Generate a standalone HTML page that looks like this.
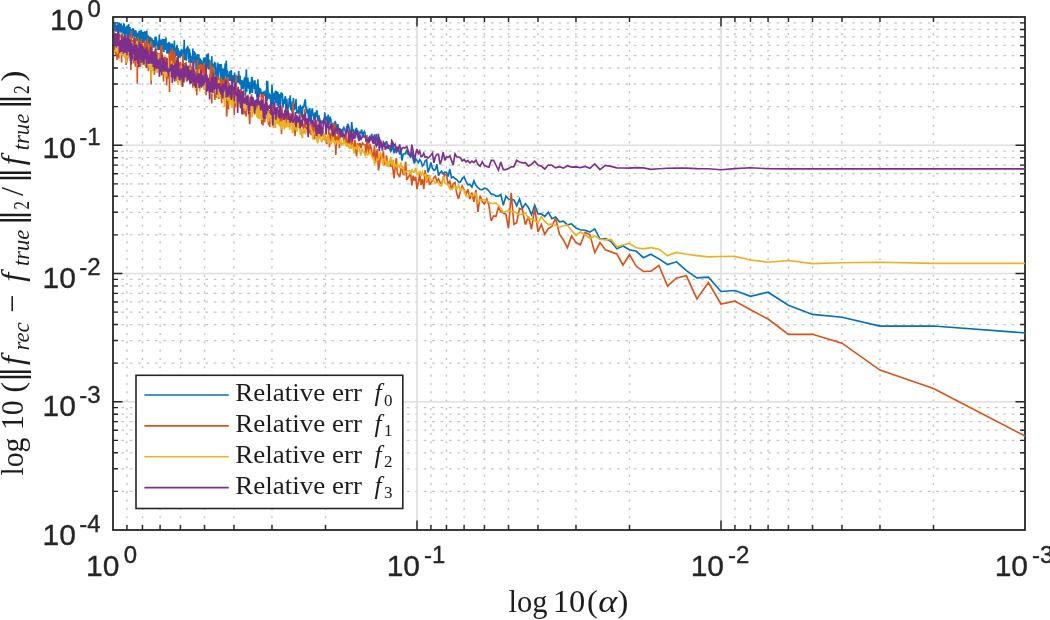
<!DOCTYPE html>
<html lang="en"><head><meta charset="utf-8"><title>Relative error vs alpha</title>
<style>html,body{margin:0;padding:0;background:#fff}svg{display:block}.tk{font-family:"Liberation Sans",sans-serif;fill:#262626;stroke:#262626;stroke-width:.35px}.tx{font-family:"Liberation Serif",serif;fill:#1c1c1c}.it{font-style:italic}</style></head><body>
<svg width="1050" height="620" viewBox="0 0 1050 620">
<rect width="1050" height="620" fill="#fff"/>
<g stroke="#c3c3c3" stroke-width="1.4" stroke-dasharray="2.1 6.23" stroke-dashoffset="0.6" fill="none"><line x1="933.49" y1="17.0" x2="933.49" y2="530.0"/><line x1="879.96" y1="17.0" x2="879.96" y2="530.0"/><line x1="841.97" y1="17.0" x2="841.97" y2="530.0"/><line x1="812.51" y1="17.0" x2="812.51" y2="530.0"/><line x1="788.44" y1="17.0" x2="788.44" y2="530.0"/><line x1="768.09" y1="17.0" x2="768.09" y2="530.0"/><line x1="750.46" y1="17.0" x2="750.46" y2="530.0"/><line x1="734.91" y1="17.0" x2="734.91" y2="530.0"/><line x1="629.49" y1="17.0" x2="629.49" y2="530.0"/><line x1="575.96" y1="17.0" x2="575.96" y2="530.0"/><line x1="537.97" y1="17.0" x2="537.97" y2="530.0"/><line x1="508.51" y1="17.0" x2="508.51" y2="530.0"/><line x1="484.44" y1="17.0" x2="484.44" y2="530.0"/><line x1="464.09" y1="17.0" x2="464.09" y2="530.0"/><line x1="446.46" y1="17.0" x2="446.46" y2="530.0"/><line x1="430.91" y1="17.0" x2="430.91" y2="530.0"/><line x1="325.49" y1="17.0" x2="325.49" y2="530.0"/><line x1="271.96" y1="17.0" x2="271.96" y2="530.0"/><line x1="233.97" y1="17.0" x2="233.97" y2="530.0"/><line x1="204.51" y1="17.0" x2="204.51" y2="530.0"/><line x1="180.44" y1="17.0" x2="180.44" y2="530.0"/><line x1="160.09" y1="17.0" x2="160.09" y2="530.0"/><line x1="142.46" y1="17.0" x2="142.46" y2="530.0"/><line x1="126.91" y1="17.0" x2="126.91" y2="530.0"/></g>
<g stroke="#c3c3c3" stroke-width="1.3" stroke-dasharray="2.6 5.8" stroke-dashoffset="0" fill="none"><line x1="113.0" y1="106.64" x2="1025.0" y2="106.64"/><line x1="113.0" y1="84.06" x2="1025.0" y2="84.06"/><line x1="113.0" y1="68.04" x2="1025.0" y2="68.04"/><line x1="113.0" y1="55.61" x2="1025.0" y2="55.61"/><line x1="113.0" y1="45.45" x2="1025.0" y2="45.45"/><line x1="113.0" y1="36.87" x2="1025.0" y2="36.87"/><line x1="113.0" y1="29.43" x2="1025.0" y2="29.43"/><line x1="113.0" y1="22.87" x2="1025.0" y2="22.87"/><line x1="113.0" y1="234.89" x2="1025.0" y2="234.89"/><line x1="113.0" y1="212.31" x2="1025.0" y2="212.31"/><line x1="113.0" y1="196.29" x2="1025.0" y2="196.29"/><line x1="113.0" y1="183.86" x2="1025.0" y2="183.86"/><line x1="113.0" y1="173.70" x2="1025.0" y2="173.70"/><line x1="113.0" y1="165.12" x2="1025.0" y2="165.12"/><line x1="113.0" y1="157.68" x2="1025.0" y2="157.68"/><line x1="113.0" y1="151.12" x2="1025.0" y2="151.12"/><line x1="113.0" y1="363.14" x2="1025.0" y2="363.14"/><line x1="113.0" y1="340.56" x2="1025.0" y2="340.56"/><line x1="113.0" y1="324.54" x2="1025.0" y2="324.54"/><line x1="113.0" y1="312.11" x2="1025.0" y2="312.11"/><line x1="113.0" y1="301.95" x2="1025.0" y2="301.95"/><line x1="113.0" y1="293.37" x2="1025.0" y2="293.37"/><line x1="113.0" y1="285.93" x2="1025.0" y2="285.93"/><line x1="113.0" y1="279.37" x2="1025.0" y2="279.37"/><line x1="113.0" y1="491.39" x2="1025.0" y2="491.39"/><line x1="113.0" y1="468.81" x2="1025.0" y2="468.81"/><line x1="113.0" y1="452.79" x2="1025.0" y2="452.79"/><line x1="113.0" y1="440.36" x2="1025.0" y2="440.36"/><line x1="113.0" y1="430.20" x2="1025.0" y2="430.20"/><line x1="113.0" y1="421.62" x2="1025.0" y2="421.62"/><line x1="113.0" y1="414.18" x2="1025.0" y2="414.18"/><line x1="113.0" y1="407.62" x2="1025.0" y2="407.62"/></g>
<g stroke="#dedede" stroke-width="1.6" fill="none"><line x1="417.00" y1="17.0" x2="417.00" y2="530.0"/><line x1="721.00" y1="17.0" x2="721.00" y2="530.0"/><line x1="113.0" y1="145.25" x2="1025.0" y2="145.25"/><line x1="113.0" y1="273.50" x2="1025.0" y2="273.50"/><line x1="113.0" y1="401.75" x2="1025.0" y2="401.75"/></g>
<path d="M933.49 530.0v-5.0 M933.49 17.0v5.0 M879.96 530.0v-5.0 M879.96 17.0v5.0 M841.97 530.0v-5.0 M841.97 17.0v5.0 M812.51 530.0v-5.0 M812.51 17.0v5.0 M788.44 530.0v-5.0 M788.44 17.0v5.0 M768.09 530.0v-5.0 M768.09 17.0v5.0 M750.46 530.0v-5.0 M750.46 17.0v5.0 M734.91 530.0v-5.0 M734.91 17.0v5.0 M417.00 530.0v-9.5 M417.00 17.0v9.5 M629.49 530.0v-5.0 M629.49 17.0v5.0 M575.96 530.0v-5.0 M575.96 17.0v5.0 M537.97 530.0v-5.0 M537.97 17.0v5.0 M508.51 530.0v-5.0 M508.51 17.0v5.0 M484.44 530.0v-5.0 M484.44 17.0v5.0 M464.09 530.0v-5.0 M464.09 17.0v5.0 M446.46 530.0v-5.0 M446.46 17.0v5.0 M430.91 530.0v-5.0 M430.91 17.0v5.0 M721.00 530.0v-9.5 M721.00 17.0v9.5 M325.49 530.0v-5.0 M325.49 17.0v5.0 M271.96 530.0v-5.0 M271.96 17.0v5.0 M233.97 530.0v-5.0 M233.97 17.0v5.0 M204.51 530.0v-5.0 M204.51 17.0v5.0 M180.44 530.0v-5.0 M180.44 17.0v5.0 M160.09 530.0v-5.0 M160.09 17.0v5.0 M142.46 530.0v-5.0 M142.46 17.0v5.0 M126.91 530.0v-5.0 M126.91 17.0v5.0 M113.0 106.64h5.0 M1025.0 106.64h-5.0 M113.0 84.06h5.0 M1025.0 84.06h-5.0 M113.0 68.04h5.0 M1025.0 68.04h-5.0 M113.0 55.61h5.0 M1025.0 55.61h-5.0 M113.0 45.45h5.0 M1025.0 45.45h-5.0 M113.0 36.87h5.0 M1025.0 36.87h-5.0 M113.0 29.43h5.0 M1025.0 29.43h-5.0 M113.0 22.87h5.0 M1025.0 22.87h-5.0 M113.0 145.25h9.5 M1025.0 145.25h-9.5 M113.0 234.89h5.0 M1025.0 234.89h-5.0 M113.0 212.31h5.0 M1025.0 212.31h-5.0 M113.0 196.29h5.0 M1025.0 196.29h-5.0 M113.0 183.86h5.0 M1025.0 183.86h-5.0 M113.0 173.70h5.0 M1025.0 173.70h-5.0 M113.0 165.12h5.0 M1025.0 165.12h-5.0 M113.0 157.68h5.0 M1025.0 157.68h-5.0 M113.0 151.12h5.0 M1025.0 151.12h-5.0 M113.0 273.50h9.5 M1025.0 273.50h-9.5 M113.0 363.14h5.0 M1025.0 363.14h-5.0 M113.0 340.56h5.0 M1025.0 340.56h-5.0 M113.0 324.54h5.0 M1025.0 324.54h-5.0 M113.0 312.11h5.0 M1025.0 312.11h-5.0 M113.0 301.95h5.0 M1025.0 301.95h-5.0 M113.0 293.37h5.0 M1025.0 293.37h-5.0 M113.0 285.93h5.0 M1025.0 285.93h-5.0 M113.0 279.37h5.0 M1025.0 279.37h-5.0 M113.0 401.75h9.5 M1025.0 401.75h-9.5 M113.0 491.39h5.0 M1025.0 491.39h-5.0 M113.0 468.81h5.0 M1025.0 468.81h-5.0 M113.0 452.79h5.0 M1025.0 452.79h-5.0 M113.0 440.36h5.0 M1025.0 440.36h-5.0 M113.0 430.20h5.0 M1025.0 430.20h-5.0 M113.0 421.62h5.0 M1025.0 421.62h-5.0 M113.0 414.18h5.0 M1025.0 414.18h-5.0 M113.0 407.62h5.0 M1025.0 407.62h-5.0" stroke="#262626" stroke-width="1.45" fill="none"/>
<rect x="113.0" y="17.0" width="912.0" height="513.0" fill="none" stroke="#262626" stroke-width="1.8"/>
<g fill="none" stroke-width="1.65" stroke-linejoin="miter" stroke-miterlimit="3" clip-path="url(#cp)">
<clipPath id="cp"><rect x="113.9" y="17.0" width="911.1" height="513.0"/></clipPath>
<path stroke="#0072BD" d="M113.0 31.1 L113.1 24.6 L113.3 24.0 L113.4 17.2 L113.5 25.7 L113.7 24.7 L113.8 24.1 L113.9 26.9 L114.1 27.3 L114.2 22.5 L114.3 23.2 L114.5 24.5 L114.6 28.3 L114.7 28.0 L114.9 22.0 L115.0 22.7 L115.1 28.7 L115.3 31.4 L115.4 26.3 L115.5 24.3 L115.7 30.0 L115.8 25.6 L115.9 29.0 L116.1 31.7 L116.2 28.8 L116.3 27.0 L116.5 29.2 L116.6 24.8 L116.7 26.3 L116.9 25.1 L117.0 26.4 L117.2 25.5 L117.3 26.5 L117.4 26.0 L117.6 27.5 L117.7 27.5 L117.8 28.3 L118.0 31.9 L118.1 22.4 L118.3 31.7 L118.4 26.8 L118.5 23.6 L118.7 27.1 L118.8 28.0 L118.9 31.2 L119.1 24.4 L119.2 28.6 L119.4 28.3 L119.5 22.5 L119.6 24.2 L119.8 30.1 L119.9 30.4 L120.1 31.8 L120.2 30.0 L120.3 29.6 L120.5 28.8 L120.6 32.4 L120.7 25.7 L120.9 28.1 L121.0 29.8 L121.2 23.5 L121.3 33.0 L121.5 26.2 L121.6 28.6 L121.7 35.9 L121.9 26.2 L122.0 27.2 L122.2 34.1 L122.3 25.5 L122.4 27.7 L122.6 30.9 L122.7 30.7 L122.9 31.3 L123.0 30.6 L123.2 33.8 L123.3 32.8 L123.4 31.5 L123.6 27.3 L123.7 27.3 L123.9 23.4 L124.0 32.0 L124.2 23.8 L124.3 32.8 L124.4 36.0 L124.6 26.5 L124.7 27.8 L124.9 28.5 L125.0 32.9 L125.2 27.4 L125.3 29.8 L125.5 28.6 L125.6 29.5 L125.7 34.7 L125.9 27.3 L126.0 30.8 L126.2 31.5 L126.3 33.5 L126.5 26.5 L126.6 34.5 L126.8 32.3 L126.9 33.8 L127.1 31.2 L127.2 25.6 L127.4 28.9 L127.5 33.8 L127.6 31.3 L127.8 31.1 L127.9 37.3 L128.1 38.7 L128.2 31.3 L128.4 37.9 L128.5 24.9 L128.7 24.8 L128.8 34.5 L129.0 30.8 L129.1 33.7 L129.3 33.5 L129.4 31.6 L129.6 34.2 L129.7 32.5 L129.9 26.9 L130.0 32.9 L130.2 32.8 L130.3 38.4 L130.5 28.5 L130.6 32.4 L130.8 31.0 L130.9 32.0 L131.1 38.1 L131.2 33.9 L131.4 31.1 L131.5 33.2 L131.7 35.3 L131.8 29.5 L132.0 32.0 L132.1 38.1 L132.3 35.9 L132.5 32.9 L132.6 31.5 L132.8 32.7 L132.9 28.0 L133.1 36.5 L133.2 34.5 L133.4 33.9 L133.5 29.1 L133.7 31.2 L133.8 35.4 L134.0 34.6 L134.1 32.1 L134.3 35.5 L134.5 37.1 L134.6 31.7 L134.8 32.2 L134.9 31.1 L135.1 30.2 L135.2 36.9 L135.4 36.0 L135.5 35.5 L135.7 30.4 L135.9 30.9 L136.0 34.3 L136.2 33.2 L136.3 35.0 L136.5 32.3 L136.6 37.0 L136.8 40.9 L137.0 40.2 L137.1 40.4 L137.3 35.3 L137.4 38.2 L137.6 33.9 L137.8 38.3 L137.9 34.0 L138.1 33.7 L138.2 33.2 L138.4 37.8 L138.6 36.5 L138.7 36.2 L138.9 31.8 L139.0 36.2 L139.2 30.8 L139.4 40.9 L139.5 35.5 L139.7 36.6 L139.8 35.7 L140.0 30.7 L140.2 31.5 L140.3 36.1 L140.5 41.4 L140.7 32.5 L140.8 34.0 L141.0 36.3 L141.1 30.8 L141.3 30.8 L141.5 35.3 L141.6 36.6 L141.8 35.5 L142.0 42.2 L142.1 36.4 L142.3 38.3 L142.5 42.6 L142.6 43.0 L142.8 31.7 L143.0 36.0 L143.1 41.4 L143.3 32.6 L143.5 34.3 L143.6 33.1 L143.8 32.9 L144.0 33.8 L144.1 38.4 L144.3 42.2 L144.5 43.2 L144.6 38.0 L144.8 31.2 L145.0 37.9 L145.1 37.0 L145.3 39.4 L145.5 37.8 L145.6 32.1 L145.8 39.9 L146.0 31.3 L146.1 36.2 L146.3 39.7 L146.5 39.9 L146.7 44.3 L146.8 30.6 L147.0 40.1 L147.2 41.4 L147.3 37.9 L147.5 41.4 L147.7 35.4 L147.9 41.6 L148.0 41.2 L148.2 36.0 L148.4 37.2 L148.5 38.9 L148.7 37.4 L148.9 43.4 L149.1 40.4 L149.2 44.5 L149.4 44.1 L149.6 40.2 L149.8 39.4 L149.9 36.9 L150.1 37.4 L150.3 37.5 L150.5 41.6 L150.6 37.4 L150.8 40.8 L151.0 41.3 L151.2 39.0 L151.3 40.1 L151.5 46.0 L151.7 46.6 L151.9 38.3 L152.0 40.4 L152.2 39.9 L152.4 40.3 L152.6 46.7 L152.8 43.8 L152.9 45.9 L153.1 47.8 L153.3 40.1 L153.5 41.0 L153.6 41.9 L153.8 45.5 L154.0 41.6 L154.2 44.3 L154.4 46.2 L154.5 46.3 L154.7 43.8 L154.9 39.5 L155.1 36.9 L155.3 46.5 L155.5 44.2 L155.6 39.3 L155.8 40.9 L156.0 41.2 L156.2 36.9 L156.4 43.8 L156.6 40.2 L156.7 42.1 L156.9 45.8 L157.1 42.9 L157.3 45.3 L157.5 44.9 L157.7 43.6 L157.8 43.8 L158.0 50.3 L158.2 43.1 L158.4 49.7 L158.6 40.6 L158.8 46.6 L159.0 44.7 L159.2 41.5 L159.3 34.7 L159.5 50.0 L159.7 40.2 L159.9 41.0 L160.1 45.0 L160.3 44.8 L160.5 45.7 L160.7 43.8 L160.8 39.4 L161.0 48.1 L161.2 41.7 L161.4 45.9 L161.6 47.2 L161.8 49.5 L162.0 44.5 L162.2 44.2 L162.4 44.6 L162.6 38.7 L162.8 42.8 L163.0 42.0 L163.1 41.5 L163.3 46.4 L163.5 44.7 L163.7 51.9 L163.9 51.5 L164.1 39.1 L164.3 46.6 L164.5 42.5 L164.7 48.4 L164.9 47.0 L165.1 50.0 L165.3 47.7 L165.5 49.5 L165.7 45.6 L165.9 37.4 L166.1 42.4 L166.3 43.7 L166.5 45.2 L166.7 43.3 L166.9 53.4 L167.1 46.6 L167.3 52.3 L167.5 46.1 L167.7 53.8 L167.9 43.0 L168.1 49.9 L168.3 42.7 L168.5 49.5 L168.7 54.0 L168.9 41.7 L169.1 44.7 L169.3 49.1 L169.5 47.5 L169.7 43.0 L169.9 52.8 L170.1 48.7 L170.3 53.5 L170.5 49.9 L170.7 44.2 L170.9 46.9 L171.1 54.2 L171.3 43.6 L171.5 47.2 L171.7 51.4 L171.9 53.1 L172.1 52.5 L172.3 43.6 L172.5 57.6 L172.7 48.9 L173.0 49.6 L173.2 49.7 L173.4 48.8 L173.6 46.0 L173.8 48.6 L174.0 55.2 L174.2 44.7 L174.4 40.5 L174.6 52.4 L174.8 51.7 L175.1 53.4 L175.3 57.4 L175.5 47.7 L175.7 51.4 L175.9 52.8 L176.1 55.9 L176.3 55.1 L176.5 47.7 L176.8 45.6 L177.0 50.2 L177.2 44.9 L177.4 56.0 L177.6 50.0 L177.8 50.2 L178.0 48.1 L178.3 58.0 L178.5 53.1 L178.7 50.4 L178.9 54.6 L179.1 51.9 L179.3 54.7 L179.6 57.8 L179.8 51.4 L180.0 54.7 L180.2 54.7 L180.4 57.5 L180.7 55.3 L180.9 53.1 L181.1 50.4 L181.3 54.4 L181.5 48.9 L181.8 56.1 L182.0 53.7 L182.2 55.8 L182.4 51.5 L182.7 50.4 L182.9 50.0 L183.1 58.6 L183.3 53.1 L183.6 53.2 L183.8 46.7 L184.0 54.1 L184.2 39.8 L184.5 60.3 L184.7 53.6 L184.9 54.8 L185.1 48.8 L185.4 50.3 L185.6 57.6 L185.8 54.2 L186.1 57.1 L186.3 60.8 L186.5 58.3 L186.8 47.4 L187.0 51.4 L187.2 50.9 L187.4 51.9 L187.7 47.0 L187.9 47.2 L188.1 52.9 L188.4 53.6 L188.6 58.6 L188.8 55.0 L189.1 62.7 L189.3 48.7 L189.6 50.7 L189.8 57.9 L190.0 55.8 L190.3 52.7 L190.5 60.5 L190.7 62.0 L191.0 63.1 L191.2 55.7 L191.5 57.5 L191.7 58.7 L191.9 58.0 L192.2 62.4 L192.4 55.8 L192.7 59.7 L192.9 48.4 L193.1 61.6 L193.4 65.7 L193.6 58.4 L193.9 63.2 L194.1 51.3 L194.4 57.3 L194.6 52.0 L194.8 60.4 L195.1 61.5 L195.3 53.0 L195.6 55.5 L195.8 56.8 L196.1 70.5 L196.3 59.3 L196.6 60.3 L196.8 61.5 L197.1 61.3 L197.3 58.9 L197.6 54.1 L197.8 57.1 L198.1 67.8 L198.3 61.6 L198.6 58.8 L198.8 54.4 L199.1 60.5 L199.3 61.0 L199.6 58.0 L199.8 65.2 L200.1 58.5 L200.4 60.5 L200.6 65.3 L200.9 62.5 L201.1 66.8 L201.4 60.7 L201.6 59.8 L201.9 64.1 L202.2 63.0 L202.4 67.7 L202.7 64.2 L202.9 62.2 L203.2 64.6 L203.5 65.7 L203.7 57.4 L204.0 62.1 L204.2 61.3 L204.5 68.7 L204.8 60.8 L205.0 68.3 L205.3 57.3 L205.6 63.2 L205.8 68.7 L206.1 62.4 L206.4 69.3 L206.6 54.2 L206.9 64.1 L207.2 64.9 L207.5 63.6 L207.7 57.1 L208.0 67.7 L208.3 53.3 L208.5 69.3 L208.8 66.2 L209.1 69.7 L209.4 63.8 L209.6 59.7 L209.9 62.7 L210.2 63.1 L210.5 68.4 L210.7 64.1 L211.0 67.8 L211.3 68.2 L211.6 73.0 L211.8 56.2 L212.1 64.2 L212.4 69.7 L212.7 69.9 L213.0 63.8 L213.2 65.4 L213.5 66.4 L213.8 67.6 L214.1 64.2 L214.4 64.0 L214.7 61.7 L214.9 65.6 L215.2 74.7 L215.5 62.9 L215.8 72.8 L216.1 77.9 L216.4 69.2 L216.7 80.4 L217.0 67.7 L217.3 77.2 L217.5 68.5 L217.8 62.6 L218.1 70.8 L218.4 78.9 L218.7 66.2 L219.0 71.9 L219.3 64.3 L219.6 65.0 L219.9 72.2 L220.2 69.0 L220.5 73.1 L220.8 76.9 L221.1 64.1 L221.4 66.9 L221.7 70.9 L222.0 83.1 L222.3 69.2 L222.6 68.5 L222.9 73.6 L223.2 82.7 L223.5 68.4 L223.8 70.0 L224.1 72.0 L224.4 76.0 L224.7 83.9 L225.0 65.5 L225.3 63.4 L225.7 73.4 L226.0 75.6 L226.3 60.6 L226.6 69.6 L226.9 78.4 L227.2 70.4 L227.5 76.1 L227.8 74.6 L228.2 77.4 L228.5 76.3 L228.8 75.5 L229.1 81.1 L229.4 71.2 L229.8 75.2 L230.1 81.0 L230.4 71.8 L230.7 73.0 L231.0 71.1 L231.4 70.2 L231.7 87.0 L232.0 78.5 L232.3 86.6 L232.7 80.4 L233.0 76.9 L233.3 75.1 L233.6 78.3 L234.0 76.8 L234.3 82.4 L234.6 72.6 L235.0 78.6 L235.3 80.4 L235.6 76.8 L236.0 76.9 L236.3 81.5 L236.6 81.8 L237.0 78.3 L237.3 79.0 L237.7 76.1 L238.0 82.6 L238.3 79.0 L238.7 71.1 L239.0 78.3 L239.4 83.7 L239.7 82.0 L240.1 75.6 L240.4 84.9 L240.7 84.4 L241.1 84.6 L241.4 89.9 L241.8 79.7 L242.1 85.1 L242.5 80.5 L242.8 87.7 L243.2 88.8 L243.6 85.3 L243.9 86.9 L244.3 78.4 L244.6 86.6 L245.0 76.7 L245.3 95.6 L245.7 90.2 L246.1 75.4 L246.4 69.2 L246.8 91.6 L247.2 79.7 L247.5 87.8 L247.9 77.6 L248.3 85.5 L248.6 81.7 L249.0 88.9 L249.4 83.8 L249.7 94.2 L250.1 81.8 L250.5 93.4 L250.9 86.3 L251.2 89.5 L251.6 77.8 L252.0 77.1 L252.4 92.9 L252.7 80.4 L253.1 85.5 L253.5 85.8 L253.9 82.7 L254.3 89.0 L254.7 80.2 L255.0 81.6 L255.4 93.6 L255.8 84.1 L256.2 92.9 L256.6 92.7 L257.0 97.6 L257.4 91.9 L257.8 79.3 L258.2 86.1 L258.6 87.6 L259.0 96.9 L259.4 92.2 L259.8 87.7 L260.2 93.0 L260.6 88.8 L261.0 94.0 L261.4 92.0 L261.8 97.6 L262.2 93.4 L262.6 97.3 L263.0 91.9 L263.4 96.1 L263.8 91.4 L264.3 96.1 L264.7 93.9 L265.1 92.2 L265.5 90.7 L265.9 91.7 L266.4 96.1 L266.8 80.8 L267.2 100.8 L267.6 80.8 L268.1 93.2 L268.5 92.6 L268.9 98.8 L269.3 96.2 L269.8 94.8 L270.2 95.7 L270.6 100.7 L271.1 108.5 L271.5 97.9 L272.0 84.8 L272.4 94.0 L272.8 98.8 L273.3 114.7 L273.7 92.7 L274.2 95.1 L274.6 100.3 L275.1 99.3 L275.5 90.6 L276.0 103.0 L276.4 91.1 L276.9 96.9 L277.3 105.6 L277.8 91.8 L278.3 97.2 L278.7 108.0 L279.2 98.1 L279.7 94.2 L280.1 96.8 L280.6 104.4 L281.1 92.2 L281.5 97.3 L282.0 93.2 L282.5 95.0 L283.0 107.8 L283.4 101.0 L283.9 99.4 L284.4 104.0 L284.9 98.5 L285.4 96.2 L285.9 108.3 L286.4 107.2 L286.8 98.8 L287.3 106.8 L287.8 110.7 L288.3 106.1 L288.8 106.4 L289.3 98.0 L289.8 103.6 L290.3 95.3 L290.8 110.2 L291.4 104.1 L291.9 111.6 L292.4 101.6 L292.9 109.8 L293.4 98.1 L293.9 104.0 L294.5 108.8 L295.0 108.1 L295.5 106.3 L296.0 99.0 L296.6 113.3 L297.1 110.4 L297.6 112.9 L298.2 113.0 L298.7 106.2 L299.2 110.0 L299.8 120.7 L300.3 104.8 L300.9 110.9 L301.4 106.8 L302.0 117.7 L302.5 110.8 L303.1 105.6 L303.6 107.9 L304.2 104.6 L304.8 101.0 L305.3 99.4 L305.9 108.7 L306.5 107.2 L307.0 113.4 L307.6 109.3 L308.2 114.4 L308.8 121.7 L309.4 108.8 L309.9 109.0 L310.5 119.2 L311.1 125.5 L311.7 111.6 L312.3 108.4 L312.9 114.9 L313.5 114.8 L314.1 120.0 L314.7 112.5 L315.3 116.2 L315.9 116.3 L316.6 111.0 L317.2 111.3 L317.8 120.2 L318.4 120.8 L319.0 115.3 L319.7 125.6 L320.3 123.1 L320.9 121.3 L321.6 122.2 L322.2 121.3 L322.9 123.1 L323.5 123.9 L324.2 120.8 L324.8 112.2 L325.5 120.3 L326.1 117.8 L326.8 116.6 L327.5 124.2 L328.2 114.6 L328.8 125.6 L329.5 119.8 L330.2 117.7 L330.9 119.4 L331.6 132.6 L332.3 129.3 L333.0 122.5 L333.7 128.2 L334.4 131.3 L335.1 121.0 L335.8 123.6 L336.5 128.6 L337.2 126.9 L337.9 124.1 L338.7 132.2 L339.4 128.2 L340.1 129.5 L340.9 136.0 L341.6 129.0 L342.4 137.6 L343.1 128.8 L343.9 127.4 L344.6 128.8 L345.4 131.9 L346.2 131.4 L346.9 130.6 L347.7 123.9 L348.5 125.7 L349.3 129.1 L350.1 133.2 L350.9 136.2 L351.7 122.0 L352.5 130.8 L353.3 130.0 L354.1 131.6 L354.9 133.1 L355.8 129.4 L356.6 128.0 L357.4 136.9 L358.3 136.3 L359.1 132.2 L360.0 133.6 L360.9 131.9 L361.7 129.6 L362.6 137.4 L363.5 132.9 L364.4 131.6 L365.2 133.8 L366.1 142.2 L367.0 138.2 L367.9 137.8 L368.9 137.6 L369.8 140.7 L370.7 140.6 L371.6 133.8 L372.6 138.1 L373.5 137.2 L374.5 140.8 L375.4 140.4 L376.4 134.1 L377.4 145.7 L378.4 143.2 L379.3 136.8 L380.3 147.3 L381.3 144.3 L382.4 146.1 L383.4 145.2 L384.4 146.2 L385.4 144.5 L386.5 141.1 L387.5 145.3 L388.6 148.6 L389.7 148.7 L390.7 151.4 L391.8 149.5 L392.9 142.9 L394.0 153.4 L395.1 148.8 L396.3 147.5 L397.4 151.4 L398.5 148.4 L399.7 154.5 L400.9 150.9 L402.0 160.6 L403.2 154.1 L404.4 153.6 L405.6 153.8 L406.8 149.6 L408.1 154.2 L409.3 155.1 L410.6 157.0 L411.8 151.6 L413.1 159.2 L414.4 163.6 L415.7 158.9 L417.0 160.6 L418.3 162.7 L419.7 159.6 L421.0 161.3 L422.4 166.1 L423.8 164.4 L425.2 160.8 L426.6 159.8 L428.0 172.5 L429.5 167.7 L430.9 162.4 L432.4 168.1 L433.9 170.3 L435.4 169.4 L436.9 164.3 L438.5 175.6 L440.0 172.8 L441.6 171.1 L443.2 174.1 L444.8 172.2 L446.5 172.5 L448.1 176.5 L449.8 169.1 L451.5 178.0 L453.2 176.9 L455.0 178.5 L456.8 179.6 L458.5 181.9 L460.4 182.2 L462.2 178.6 L464.1 176.9 L466.0 181.5 L467.9 184.8 L469.9 184.3 L471.9 187.1 L473.9 180.9 L475.9 185.4 L478.0 187.7 L480.1 189.4 L482.3 189.6 L484.4 188.2 L486.7 188.8 L488.9 191.0 L491.2 193.9 L493.6 194.4 L495.9 196.1 L498.4 196.1 L500.8 194.4 L503.3 205.2 L505.9 196.1 L508.5 199.0 L511.2 199.5 L513.9 200.0 L516.7 205.7 L519.5 199.0 L522.4 208.4 L525.4 203.6 L528.4 207.4 L531.5 214.7 L534.7 205.1 L538.0 213.8 L541.3 213.8 L544.7 216.5 L548.3 212.2 L551.9 218.7 L555.6 217.1 L559.4 221.8 L563.4 221.1 L567.4 224.9 L571.6 223.8 L576.0 228.1 L580.4 229.8 L585.1 230.2 L589.9 232.1 L594.8 228.9 L600.0 239.2 L605.4 238.5 L611.0 241.4 L616.9 248.7 L623.0 246.0 L629.5 249.7 L636.3 251.3 L643.4 257.7 L650.9 254.2 L658.9 258.9 L667.5 264.5 L676.6 261.8 L686.4 270.6 L696.9 277.9 L708.4 277.1 L721.0 291.5 L734.9 290.5 L750.5 296.3 L768.1 292.2 L788.4 305.2 L812.5 314.4 L842.0 317.3 L880.0 326.1 L933.5 326.0 L1025.0 332.9"/>
<path stroke="#D95319" d="M113.0 42.4 L113.1 34.2 L113.3 49.6 L113.4 41.7 L113.5 40.2 L113.7 37.1 L113.8 48.8 L113.9 36.5 L114.1 47.1 L114.2 39.9 L114.3 43.6 L114.5 42.0 L114.6 47.1 L114.7 48.1 L114.9 37.0 L115.0 50.1 L115.1 48.3 L115.3 50.3 L115.4 53.2 L115.5 34.4 L115.7 55.4 L115.8 33.8 L115.9 39.8 L116.1 46.0 L116.2 50.5 L116.3 47.9 L116.5 46.3 L116.6 47.6 L116.7 37.1 L116.9 44.3 L117.0 60.1 L117.2 33.9 L117.3 42.7 L117.4 43.6 L117.6 38.6 L117.7 43.5 L117.8 45.0 L118.0 42.8 L118.1 43.9 L118.3 37.4 L118.4 48.4 L118.5 40.4 L118.7 37.3 L118.8 58.5 L118.9 41.0 L119.1 41.6 L119.2 34.2 L119.4 47.5 L119.5 37.9 L119.6 40.3 L119.8 49.9 L119.9 48.6 L120.1 40.1 L120.2 48.8 L120.3 48.0 L120.5 44.2 L120.6 38.7 L120.7 48.4 L120.9 34.8 L121.0 47.9 L121.2 45.3 L121.3 36.8 L121.5 38.1 L121.6 62.5 L121.7 34.3 L121.9 46.0 L122.0 43.2 L122.2 48.8 L122.3 47.9 L122.4 52.0 L122.6 50.8 L122.7 45.6 L122.9 35.9 L123.0 43.6 L123.2 49.4 L123.3 49.4 L123.4 53.8 L123.6 44.5 L123.7 37.3 L123.9 41.8 L124.0 47.6 L124.2 52.7 L124.3 53.0 L124.4 51.4 L124.6 36.9 L124.7 42.8 L124.9 49.9 L125.0 48.3 L125.2 52.2 L125.3 37.1 L125.5 50.5 L125.6 34.4 L125.7 42.5 L125.9 46.6 L126.0 43.5 L126.2 64.9 L126.3 41.1 L126.5 57.4 L126.6 60.1 L126.8 51.3 L126.9 62.5 L127.1 38.8 L127.2 50.1 L127.4 54.4 L127.5 59.3 L127.6 55.8 L127.8 46.2 L127.9 42.5 L128.1 44.4 L128.2 47.4 L128.4 45.9 L128.5 48.9 L128.7 46.9 L128.8 36.6 L129.0 51.4 L129.1 42.6 L129.3 44.7 L129.4 54.7 L129.6 42.6 L129.7 44.9 L129.9 56.7 L130.0 37.3 L130.2 57.3 L130.3 43.3 L130.5 49.6 L130.6 44.5 L130.8 64.9 L130.9 70.1 L131.1 49.9 L131.2 56.7 L131.4 31.0 L131.5 39.2 L131.7 50.2 L131.8 45.9 L132.0 47.8 L132.1 52.0 L132.3 47.6 L132.5 43.6 L132.6 54.0 L132.8 47.3 L132.9 48.9 L133.1 46.1 L133.2 39.9 L133.4 63.4 L133.5 52.6 L133.7 47.0 L133.8 52.7 L134.0 37.9 L134.1 52.5 L134.3 36.4 L134.5 52.1 L134.6 59.4 L134.8 46.3 L134.9 58.1 L135.1 39.5 L135.2 66.7 L135.4 55.8 L135.5 55.3 L135.7 37.7 L135.9 46.6 L136.0 47.7 L136.2 43.6 L136.3 57.1 L136.5 62.8 L136.6 51.0 L136.8 43.3 L137.0 47.2 L137.1 53.2 L137.3 83.8 L137.4 52.8 L137.6 45.7 L137.8 43.6 L137.9 57.6 L138.1 59.2 L138.2 37.1 L138.4 58.3 L138.6 42.9 L138.7 45.7 L138.9 51.3 L139.0 44.1 L139.2 46.8 L139.4 49.3 L139.5 67.0 L139.7 54.5 L139.8 52.7 L140.0 41.1 L140.2 41.4 L140.3 50.6 L140.5 56.2 L140.7 66.8 L140.8 47.4 L141.0 46.1 L141.1 60.4 L141.3 38.6 L141.5 46.5 L141.6 45.1 L141.8 63.4 L142.0 57.7 L142.1 53.3 L142.3 54.6 L142.5 45.8 L142.6 43.6 L142.8 46.5 L143.0 52.2 L143.1 65.0 L143.3 54.9 L143.5 63.4 L143.6 52.8 L143.8 52.1 L144.0 53.8 L144.1 63.8 L144.3 56.9 L144.5 48.2 L144.6 60.8 L144.8 41.1 L145.0 65.4 L145.1 52.1 L145.3 60.1 L145.5 51.8 L145.6 53.9 L145.8 42.7 L146.0 54.7 L146.1 51.4 L146.3 64.6 L146.5 45.2 L146.7 45.4 L146.8 58.7 L147.0 59.6 L147.2 61.7 L147.3 55.3 L147.5 37.7 L147.7 50.0 L147.9 55.8 L148.0 50.5 L148.2 66.6 L148.4 71.1 L148.5 57.9 L148.7 66.6 L148.9 49.6 L149.1 61.2 L149.2 50.0 L149.4 50.9 L149.6 44.4 L149.8 58.0 L149.9 50.2 L150.1 68.6 L150.3 46.8 L150.5 57.8 L150.6 55.0 L150.8 55.4 L151.0 69.0 L151.2 84.6 L151.3 40.9 L151.5 50.8 L151.7 51.3 L151.9 44.6 L152.0 52.2 L152.2 58.8 L152.4 66.5 L152.6 65.3 L152.8 56.4 L152.9 60.1 L153.1 64.5 L153.3 65.8 L153.5 50.9 L153.6 62.5 L153.8 58.3 L154.0 51.3 L154.2 67.4 L154.4 74.8 L154.5 59.1 L154.7 55.9 L154.9 69.4 L155.1 50.5 L155.3 55.6 L155.5 51.3 L155.6 48.0 L155.8 46.1 L156.0 64.2 L156.2 68.4 L156.4 59.4 L156.6 51.5 L156.7 55.8 L156.9 59.5 L157.1 70.6 L157.3 72.4 L157.5 56.0 L157.7 52.8 L157.8 57.2 L158.0 60.9 L158.2 62.5 L158.4 63.9 L158.6 60.6 L158.8 56.3 L159.0 58.4 L159.2 60.0 L159.3 57.9 L159.5 53.3 L159.7 73.1 L159.9 62.0 L160.1 66.1 L160.3 54.2 L160.5 56.2 L160.7 64.4 L160.8 46.5 L161.0 63.4 L161.2 59.1 L161.4 67.0 L161.6 62.3 L161.8 45.1 L162.0 57.0 L162.2 63.0 L162.4 59.2 L162.6 63.1 L162.8 69.2 L163.0 64.7 L163.1 61.4 L163.3 71.5 L163.5 81.4 L163.7 71.6 L163.9 61.6 L164.1 56.5 L164.3 59.5 L164.5 74.7 L164.7 64.4 L164.9 68.6 L165.1 72.3 L165.3 58.4 L165.5 56.8 L165.7 69.2 L165.9 57.3 L166.1 68.0 L166.3 63.8 L166.5 63.1 L166.7 85.5 L166.9 70.7 L167.1 71.2 L167.3 68.3 L167.5 79.2 L167.7 76.0 L167.9 60.6 L168.1 75.5 L168.3 68.4 L168.5 62.8 L168.7 63.3 L168.9 58.6 L169.1 60.9 L169.3 52.5 L169.5 92.0 L169.7 63.5 L169.9 59.9 L170.1 65.5 L170.3 75.8 L170.5 68.0 L170.7 76.8 L170.9 50.6 L171.1 67.1 L171.3 74.8 L171.5 64.3 L171.7 65.7 L171.9 66.7 L172.1 48.3 L172.3 66.2 L172.5 73.3 L172.7 69.5 L173.0 61.6 L173.2 59.0 L173.4 56.6 L173.6 60.0 L173.8 53.5 L174.0 60.5 L174.2 55.4 L174.4 50.9 L174.6 67.7 L174.8 61.1 L175.1 63.8 L175.3 71.8 L175.5 73.4 L175.7 78.0 L175.9 72.4 L176.1 80.7 L176.3 58.3 L176.5 57.2 L176.8 64.5 L177.0 64.9 L177.2 60.1 L177.4 69.6 L177.6 57.2 L177.8 63.1 L178.0 76.9 L178.3 72.1 L178.5 61.3 L178.7 63.4 L178.9 67.8 L179.1 69.7 L179.3 69.3 L179.6 70.0 L179.8 79.2 L180.0 68.6 L180.2 77.2 L180.4 61.8 L180.7 67.7 L180.9 72.1 L181.1 70.9 L181.3 66.7 L181.5 75.3 L181.8 71.7 L182.0 77.1 L182.2 77.2 L182.4 63.0 L182.7 66.1 L182.9 53.6 L183.1 59.4 L183.3 72.9 L183.6 79.0 L183.8 82.3 L184.0 65.6 L184.2 77.6 L184.5 68.7 L184.7 63.0 L184.9 69.7 L185.1 75.9 L185.4 70.6 L185.6 66.9 L185.8 70.6 L186.1 61.9 L186.3 78.0 L186.5 77.7 L186.8 81.8 L187.0 69.8 L187.2 79.9 L187.4 73.5 L187.7 72.1 L187.9 65.7 L188.1 70.1 L188.4 79.7 L188.6 67.1 L188.8 72.2 L189.1 80.1 L189.3 65.9 L189.6 67.6 L189.8 65.9 L190.0 84.0 L190.3 64.6 L190.5 62.7 L190.7 75.6 L191.0 71.4 L191.2 78.4 L191.5 70.4 L191.7 80.0 L191.9 73.7 L192.2 66.6 L192.4 70.9 L192.7 76.0 L192.9 87.8 L193.1 72.1 L193.4 59.7 L193.6 77.1 L193.9 85.8 L194.1 69.8 L194.4 78.8 L194.6 78.7 L194.8 73.2 L195.1 71.5 L195.3 77.3 L195.6 80.5 L195.8 73.8 L196.1 71.2 L196.3 90.9 L196.6 71.7 L196.8 95.3 L197.1 73.9 L197.3 81.3 L197.6 60.0 L197.8 83.2 L198.1 80.4 L198.3 80.5 L198.6 66.2 L198.8 66.1 L199.1 70.9 L199.3 81.4 L199.6 83.7 L199.8 89.2 L200.1 75.5 L200.4 78.4 L200.6 64.0 L200.9 71.8 L201.1 82.7 L201.4 86.8 L201.6 78.6 L201.9 75.7 L202.2 64.8 L202.4 72.4 L202.7 83.9 L202.9 84.9 L203.2 78.6 L203.5 69.1 L203.7 75.1 L204.0 62.4 L204.2 89.8 L204.5 78.5 L204.8 69.5 L205.0 78.9 L205.3 76.5 L205.6 68.8 L205.8 71.9 L206.1 95.3 L206.4 84.2 L206.6 91.1 L206.9 76.7 L207.2 79.4 L207.5 88.9 L207.7 86.8 L208.0 82.0 L208.3 81.0 L208.5 85.9 L208.8 86.0 L209.1 85.4 L209.4 79.6 L209.6 80.8 L209.9 74.6 L210.2 77.2 L210.5 61.5 L210.7 92.0 L211.0 79.3 L211.3 78.4 L211.6 100.8 L211.8 103.4 L212.1 65.7 L212.4 82.6 L212.7 83.7 L213.0 72.3 L213.2 81.0 L213.5 69.3 L213.8 86.9 L214.1 87.9 L214.4 87.2 L214.7 79.8 L214.9 99.9 L215.2 76.6 L215.5 79.4 L215.8 89.8 L216.1 97.6 L216.4 92.1 L216.7 76.3 L217.0 94.8 L217.3 86.9 L217.5 82.5 L217.8 93.8 L218.1 76.8 L218.4 92.8 L218.7 84.4 L219.0 99.1 L219.3 79.2 L219.6 97.8 L219.9 83.8 L220.2 77.0 L220.5 97.6 L220.8 82.4 L221.1 78.6 L221.4 90.0 L221.7 103.3 L222.0 83.6 L222.3 87.6 L222.6 83.0 L222.9 80.0 L223.2 99.1 L223.5 89.0 L223.8 99.3 L224.1 85.2 L224.4 97.1 L224.7 78.9 L225.0 89.5 L225.3 79.2 L225.7 97.8 L226.0 89.3 L226.3 78.1 L226.6 116.6 L226.9 112.7 L227.2 78.7 L227.5 92.0 L227.8 97.3 L228.2 76.9 L228.5 109.5 L228.8 98.0 L229.1 82.8 L229.4 86.4 L229.8 96.7 L230.1 96.5 L230.4 90.3 L230.7 90.7 L231.0 92.9 L231.4 102.2 L231.7 83.4 L232.0 91.4 L232.3 98.5 L232.7 99.1 L233.0 93.5 L233.3 90.0 L233.6 100.0 L234.0 88.2 L234.3 115.2 L234.6 91.6 L235.0 103.2 L235.3 107.5 L235.6 88.8 L236.0 94.8 L236.3 74.5 L236.6 102.2 L237.0 87.7 L237.3 98.2 L237.7 95.3 L238.0 100.6 L238.3 92.9 L238.7 91.1 L239.0 95.5 L239.4 96.6 L239.7 106.9 L240.1 98.0 L240.4 100.6 L240.7 101.9 L241.1 89.3 L241.4 107.2 L241.8 108.2 L242.1 113.4 L242.5 111.7 L242.8 95.3 L243.2 101.9 L243.6 89.6 L243.9 114.5 L244.3 109.6 L244.6 99.5 L245.0 107.6 L245.3 110.3 L245.7 111.8 L246.1 116.7 L246.4 105.5 L246.8 102.7 L247.2 100.8 L247.5 100.7 L247.9 94.7 L248.3 99.0 L248.6 98.8 L249.0 113.0 L249.4 118.6 L249.7 124.1 L250.1 112.0 L250.5 99.1 L250.9 114.4 L251.2 101.5 L251.6 94.2 L252.0 104.1 L252.4 107.6 L252.7 97.9 L253.1 99.9 L253.5 110.3 L253.9 106.9 L254.3 108.0 L254.7 101.7 L255.0 109.2 L255.4 102.4 L255.8 101.8 L256.2 105.1 L256.6 108.7 L257.0 99.9 L257.4 105.2 L257.8 109.1 L258.2 115.8 L258.6 103.0 L259.0 111.2 L259.4 102.7 L259.8 113.8 L260.2 115.4 L260.6 109.1 L261.0 108.9 L261.4 94.0 L261.8 124.3 L262.2 115.8 L262.6 109.6 L263.0 125.6 L263.4 94.1 L263.8 111.2 L264.3 118.0 L264.7 122.3 L265.1 115.3 L265.5 111.4 L265.9 118.4 L266.4 109.8 L266.8 103.5 L267.2 115.3 L267.6 108.0 L268.1 117.1 L268.5 125.3 L268.9 113.1 L269.3 110.0 L269.8 126.9 L270.2 111.4 L270.6 114.7 L271.1 109.8 L271.5 112.3 L272.0 120.2 L272.4 115.7 L272.8 115.6 L273.3 105.6 L273.7 117.5 L274.2 116.0 L274.6 123.9 L275.1 127.6 L275.5 115.7 L276.0 123.2 L276.4 113.3 L276.9 113.6 L277.3 116.0 L277.8 116.2 L278.3 123.9 L278.7 113.5 L279.2 124.8 L279.7 109.3 L280.1 117.1 L280.6 124.8 L281.1 119.8 L281.5 134.3 L282.0 107.5 L282.5 119.4 L283.0 122.8 L283.4 116.2 L283.9 124.7 L284.4 117.1 L284.9 115.9 L285.4 115.6 L285.9 113.5 L286.4 127.2 L286.8 124.7 L287.3 118.3 L287.8 110.7 L288.3 118.6 L288.8 123.8 L289.3 118.7 L289.8 112.7 L290.3 121.9 L290.8 118.0 L291.4 116.7 L291.9 116.4 L292.4 125.8 L292.9 101.9 L293.4 115.4 L293.9 117.8 L294.5 118.4 L295.0 136.3 L295.5 124.6 L296.0 120.2 L296.6 119.0 L297.1 128.0 L297.6 119.9 L298.2 119.8 L298.7 124.4 L299.2 128.0 L299.8 112.8 L300.3 127.8 L300.9 119.9 L301.4 123.5 L302.0 124.4 L302.5 127.2 L303.1 123.7 L303.6 133.2 L304.2 129.9 L304.8 108.8 L305.3 119.8 L305.9 129.0 L306.5 126.9 L307.0 128.2 L307.6 132.4 L308.2 124.6 L308.8 128.3 L309.4 133.4 L309.9 123.9 L310.5 128.7 L311.1 135.1 L311.7 122.3 L312.3 125.0 L312.9 127.1 L313.5 135.7 L314.1 125.0 L314.7 139.3 L315.3 126.0 L315.9 130.0 L316.6 120.2 L317.2 128.9 L317.8 138.8 L318.4 135.0 L319.0 123.5 L319.7 134.2 L320.3 132.5 L320.9 137.0 L321.6 133.0 L322.2 128.8 L322.9 127.8 L323.5 139.2 L324.2 137.4 L324.8 138.9 L325.5 137.2 L326.1 139.0 L326.8 144.2 L327.5 137.2 L328.2 139.4 L328.8 128.2 L329.5 147.0 L330.2 134.1 L330.9 133.6 L331.6 140.9 L332.3 133.4 L333.0 123.4 L333.7 136.6 L334.4 140.2 L335.1 123.8 L335.8 154.9 L336.5 137.1 L337.2 137.0 L337.9 141.8 L338.7 128.4 L339.4 148.1 L340.1 132.6 L340.9 133.7 L341.6 134.9 L342.4 135.8 L343.1 132.9 L343.9 141.8 L344.6 137.7 L345.4 143.9 L346.2 133.1 L346.9 138.8 L347.7 145.5 L348.5 141.0 L349.3 136.3 L350.1 133.0 L350.9 148.4 L351.7 131.0 L352.5 143.7 L353.3 147.5 L354.1 149.2 L354.9 139.7 L355.8 150.5 L356.6 156.5 L357.4 143.0 L358.3 145.0 L359.1 145.5 L360.0 142.9 L360.9 148.1 L361.7 144.9 L362.6 143.1 L363.5 144.2 L364.4 144.7 L365.2 144.9 L366.1 155.3 L367.0 135.0 L367.9 147.0 L368.9 154.1 L369.8 143.7 L370.7 146.5 L371.6 150.6 L372.6 156.9 L373.5 155.7 L374.5 145.3 L375.4 163.3 L376.4 153.5 L377.4 149.3 L378.4 170.4 L379.3 165.6 L380.3 157.0 L381.3 155.7 L382.4 157.2 L383.4 151.3 L384.4 164.3 L385.4 163.3 L386.5 155.3 L387.5 165.6 L388.6 165.8 L389.7 161.8 L390.7 166.7 L391.8 163.2 L392.9 168.9 L394.0 178.4 L395.1 167.9 L396.3 158.1 L397.4 173.8 L398.5 174.7 L399.7 177.1 L400.9 168.9 L402.0 167.5 L403.2 174.4 L404.4 174.5 L405.6 161.5 L406.8 180.0 L408.1 177.4 L409.3 175.8 L410.6 172.7 L411.8 185.5 L413.1 175.6 L414.4 180.7 L415.7 176.8 L417.0 189.2 L418.3 182.4 L419.7 174.0 L421.0 185.1 L422.4 179.2 L423.8 189.2 L425.2 170.1 L426.6 182.6 L428.0 175.0 L429.5 184.9 L430.9 182.5 L432.4 180.8 L433.9 177.6 L435.4 176.2 L436.9 181.4 L438.5 178.9 L440.0 182.4 L441.6 183.7 L443.2 178.5 L444.8 174.1 L446.5 175.1 L448.1 184.0 L449.8 181.3 L451.5 190.1 L453.2 183.7 L455.0 182.6 L456.8 193.8 L458.5 198.9 L460.4 191.6 L462.2 186.0 L464.1 189.9 L466.0 193.9 L467.9 189.4 L469.9 199.0 L471.9 192.7 L473.9 201.8 L475.9 189.9 L478.0 211.9 L480.1 195.6 L482.3 201.8 L484.4 204.0 L486.7 199.0 L488.9 205.2 L491.2 221.0 L493.6 215.9 L495.9 216.5 L498.4 207.4 L500.8 211.4 L503.3 213.1 L505.9 214.2 L508.5 228.3 L511.2 192.7 L513.9 224.4 L516.7 222.7 L519.5 208.5 L522.4 209.7 L525.4 224.7 L528.4 216.5 L531.5 229.2 L534.7 207.8 L538.0 231.9 L541.3 224.5 L544.7 234.3 L548.3 228.5 L551.9 226.5 L555.6 218.2 L559.4 233.9 L563.4 239.9 L567.4 247.7 L571.6 235.9 L576.0 242.6 L580.4 244.8 L585.1 232.5 L589.9 234.8 L594.8 252.6 L600.0 242.6 L605.4 249.9 L611.0 251.9 L616.9 254.0 L623.0 265.0 L629.5 254.5 L636.3 266.3 L643.4 271.5 L650.9 271.1 L658.9 265.5 L667.5 286.0 L676.6 277.9 L686.4 275.8 L696.9 298.9 L708.4 282.6 L721.0 304.0 L734.9 301.1 L750.5 309.8 L768.1 319.0 L788.4 334.3 L812.5 334.3 L842.0 343.2 L880.0 370.1 L933.5 388.5 L1025.0 436.0"/>
<path stroke="#EDB120" d="M113.0 41.4 L113.1 35.0 L113.3 35.4 L113.4 40.3 L113.5 42.1 L113.7 44.5 L113.8 42.6 L113.9 53.4 L114.1 43.0 L114.2 45.6 L114.3 42.4 L114.5 40.4 L114.6 43.6 L114.7 48.9 L114.9 38.4 L115.0 32.8 L115.1 39.1 L115.3 48.1 L115.4 39.0 L115.5 45.8 L115.7 51.8 L115.8 47.6 L115.9 34.0 L116.1 46.0 L116.2 41.1 L116.3 43.3 L116.5 38.3 L116.6 45.5 L116.7 48.7 L116.9 42.2 L117.0 37.6 L117.2 38.7 L117.3 53.4 L117.4 43.8 L117.6 41.2 L117.7 48.8 L117.8 41.1 L118.0 43.0 L118.1 39.4 L118.3 46.8 L118.4 45.2 L118.5 52.4 L118.7 44.6 L118.8 42.4 L118.9 39.6 L119.1 47.8 L119.2 41.4 L119.4 44.9 L119.5 42.3 L119.6 53.2 L119.8 40.4 L119.9 37.6 L120.1 45.8 L120.2 44.2 L120.3 43.6 L120.5 49.8 L120.6 49.2 L120.7 48.7 L120.9 55.2 L121.0 42.9 L121.2 51.7 L121.3 43.4 L121.5 48.7 L121.6 32.6 L121.7 43.4 L121.9 49.3 L122.0 51.4 L122.2 46.3 L122.3 41.3 L122.4 51.9 L122.6 55.1 L122.7 37.6 L122.9 47.4 L123.0 49.6 L123.2 49.1 L123.3 39.8 L123.4 48.8 L123.6 47.9 L123.7 46.0 L123.9 51.8 L124.0 52.2 L124.2 45.5 L124.3 55.6 L124.4 42.5 L124.6 58.3 L124.7 42.5 L124.9 55.3 L125.0 42.6 L125.2 51.1 L125.3 52.9 L125.5 45.2 L125.6 52.4 L125.7 43.9 L125.9 46.1 L126.0 49.7 L126.2 49.6 L126.3 51.4 L126.5 52.2 L126.6 62.9 L126.8 53.5 L126.9 49.8 L127.1 49.2 L127.2 49.2 L127.4 50.9 L127.5 46.4 L127.6 58.1 L127.8 51.0 L127.9 45.1 L128.1 45.8 L128.2 54.0 L128.4 51.7 L128.5 46.8 L128.7 45.4 L128.8 45.6 L129.0 52.1 L129.1 48.5 L129.3 42.0 L129.4 52.6 L129.6 37.5 L129.7 46.8 L129.9 58.2 L130.0 54.4 L130.2 39.5 L130.3 47.1 L130.5 46.2 L130.6 55.6 L130.8 52.6 L130.9 57.8 L131.1 54.6 L131.2 54.3 L131.4 45.8 L131.5 48.8 L131.7 48.9 L131.8 44.4 L132.0 58.3 L132.1 53.5 L132.3 42.3 L132.5 56.5 L132.6 47.4 L132.8 55.7 L132.9 48.9 L133.1 46.5 L133.2 46.2 L133.4 44.0 L133.5 48.5 L133.7 43.4 L133.8 54.7 L134.0 48.1 L134.1 51.1 L134.3 54.3 L134.5 46.2 L134.6 44.3 L134.8 61.6 L134.9 43.7 L135.1 48.5 L135.2 55.4 L135.4 55.3 L135.5 51.4 L135.7 47.0 L135.9 59.7 L136.0 56.7 L136.2 53.4 L136.3 53.2 L136.5 58.6 L136.6 60.6 L136.8 54.8 L137.0 54.7 L137.1 58.0 L137.3 42.3 L137.4 63.0 L137.6 48.5 L137.8 53.8 L137.9 57.8 L138.1 54.2 L138.2 61.4 L138.4 65.4 L138.6 55.5 L138.7 59.0 L138.9 58.4 L139.0 61.5 L139.2 55.6 L139.4 54.9 L139.5 54.4 L139.7 56.4 L139.8 61.0 L140.0 50.3 L140.2 60.0 L140.3 55.3 L140.5 54.6 L140.7 47.0 L140.8 51.5 L141.0 61.6 L141.1 53.4 L141.3 64.2 L141.5 51.7 L141.6 49.7 L141.8 58.0 L142.0 51.5 L142.1 59.3 L142.3 62.1 L142.5 59.5 L142.6 57.2 L142.8 52.3 L143.0 60.0 L143.1 60.0 L143.3 56.2 L143.5 56.9 L143.6 54.8 L143.8 59.0 L144.0 58.3 L144.1 57.1 L144.3 60.4 L144.5 61.3 L144.6 60.2 L144.8 58.8 L145.0 57.4 L145.1 63.0 L145.3 59.1 L145.5 64.5 L145.6 61.9 L145.8 67.7 L146.0 59.2 L146.1 59.1 L146.3 61.8 L146.5 61.5 L146.7 59.7 L146.8 60.4 L147.0 63.4 L147.2 60.3 L147.3 53.4 L147.5 55.9 L147.7 67.9 L147.9 57.1 L148.0 59.7 L148.2 59.0 L148.4 59.1 L148.5 60.6 L148.7 66.1 L148.9 61.1 L149.1 58.8 L149.2 61.4 L149.4 64.0 L149.6 53.2 L149.8 69.5 L149.9 55.1 L150.1 62.9 L150.3 68.7 L150.5 66.2 L150.6 67.7 L150.8 65.2 L151.0 60.4 L151.2 72.8 L151.3 80.4 L151.5 66.2 L151.7 64.6 L151.9 64.1 L152.0 64.1 L152.2 63.4 L152.4 69.0 L152.6 60.7 L152.8 71.5 L152.9 59.7 L153.1 56.9 L153.3 61.5 L153.5 64.3 L153.6 62.1 L153.8 64.9 L154.0 61.7 L154.2 60.8 L154.4 62.3 L154.5 58.6 L154.7 60.5 L154.9 62.1 L155.1 54.8 L155.3 72.1 L155.5 54.1 L155.6 63.0 L155.8 66.5 L156.0 64.8 L156.2 70.1 L156.4 66.2 L156.6 62.5 L156.7 66.6 L156.9 69.7 L157.1 72.7 L157.3 64.7 L157.5 69.6 L157.7 66.1 L157.8 59.6 L158.0 55.4 L158.2 61.9 L158.4 60.3 L158.6 54.0 L158.8 66.4 L159.0 69.5 L159.2 68.4 L159.3 59.2 L159.5 61.9 L159.7 58.8 L159.9 64.8 L160.1 64.6 L160.3 65.5 L160.5 64.2 L160.7 72.6 L160.8 67.4 L161.0 66.8 L161.2 67.5 L161.4 75.8 L161.6 66.8 L161.8 71.4 L162.0 64.0 L162.2 73.3 L162.4 69.1 L162.6 60.2 L162.8 74.3 L163.0 62.3 L163.1 63.7 L163.3 71.9 L163.5 72.8 L163.7 69.6 L163.9 69.2 L164.1 68.2 L164.3 69.3 L164.5 67.4 L164.7 65.8 L164.9 75.9 L165.1 69.0 L165.3 76.8 L165.5 78.2 L165.7 74.4 L165.9 73.0 L166.1 65.2 L166.3 66.5 L166.5 66.3 L166.7 67.2 L166.9 73.8 L167.1 64.2 L167.3 73.8 L167.5 76.2 L167.7 73.4 L167.9 75.7 L168.1 58.0 L168.3 71.1 L168.5 73.1 L168.7 72.1 L168.9 72.3 L169.1 70.8 L169.3 70.1 L169.5 71.1 L169.7 76.5 L169.9 66.3 L170.1 69.9 L170.3 75.9 L170.5 70.7 L170.7 71.5 L170.9 66.3 L171.1 67.7 L171.3 73.2 L171.5 60.8 L171.7 67.2 L171.9 73.4 L172.1 73.1 L172.3 73.4 L172.5 75.2 L172.7 63.8 L173.0 63.9 L173.2 70.7 L173.4 66.0 L173.6 63.6 L173.8 71.5 L174.0 74.5 L174.2 75.5 L174.4 72.9 L174.6 70.7 L174.8 81.0 L175.1 71.1 L175.3 70.8 L175.5 70.9 L175.7 72.7 L175.9 72.5 L176.1 74.9 L176.3 70.2 L176.5 75.9 L176.8 78.1 L177.0 77.3 L177.2 74.5 L177.4 72.9 L177.6 83.1 L177.8 75.4 L178.0 83.0 L178.3 84.9 L178.5 66.3 L178.7 80.5 L178.9 76.6 L179.1 71.3 L179.3 79.2 L179.6 79.4 L179.8 77.7 L180.0 80.2 L180.2 76.0 L180.4 76.3 L180.7 84.7 L180.9 78.6 L181.1 72.0 L181.3 65.7 L181.5 73.3 L181.8 69.4 L182.0 72.1 L182.2 78.9 L182.4 74.4 L182.7 74.0 L182.9 75.4 L183.1 85.9 L183.3 84.8 L183.6 78.1 L183.8 75.0 L184.0 79.2 L184.2 71.2 L184.5 70.6 L184.7 76.6 L184.9 73.9 L185.1 75.0 L185.4 77.2 L185.6 77.1 L185.8 80.1 L186.1 73.0 L186.3 77.5 L186.5 78.6 L186.8 81.5 L187.0 77.8 L187.2 72.4 L187.4 66.8 L187.7 75.7 L187.9 69.8 L188.1 76.2 L188.4 77.4 L188.6 72.5 L188.8 78.7 L189.1 80.0 L189.3 72.3 L189.6 76.3 L189.8 75.7 L190.0 67.3 L190.3 73.6 L190.5 79.3 L190.7 77.8 L191.0 81.6 L191.2 72.5 L191.5 76.2 L191.7 74.1 L191.9 76.1 L192.2 75.9 L192.4 79.6 L192.7 81.0 L192.9 81.1 L193.1 76.8 L193.4 81.0 L193.6 76.1 L193.9 80.1 L194.1 86.3 L194.4 87.1 L194.6 82.0 L194.8 74.6 L195.1 82.4 L195.3 89.4 L195.6 84.8 L195.8 83.4 L196.1 81.9 L196.3 80.1 L196.6 75.4 L196.8 79.8 L197.1 76.8 L197.3 84.1 L197.6 85.8 L197.8 80.5 L198.1 78.0 L198.3 78.0 L198.6 81.2 L198.8 85.5 L199.1 83.1 L199.3 69.3 L199.6 79.8 L199.8 91.5 L200.1 83.1 L200.4 83.6 L200.6 84.1 L200.9 78.9 L201.1 73.3 L201.4 86.8 L201.6 72.9 L201.9 85.4 L202.2 82.4 L202.4 83.0 L202.7 75.9 L202.9 84.3 L203.2 78.2 L203.5 78.1 L203.7 79.2 L204.0 82.2 L204.2 80.3 L204.5 83.8 L204.8 89.3 L205.0 86.7 L205.3 81.0 L205.6 89.1 L205.8 82.0 L206.1 81.2 L206.4 92.4 L206.6 85.8 L206.9 80.2 L207.2 89.7 L207.5 87.5 L207.7 89.7 L208.0 88.5 L208.3 80.0 L208.5 83.9 L208.8 92.5 L209.1 83.0 L209.4 84.1 L209.6 83.5 L209.9 82.9 L210.2 88.9 L210.5 88.2 L210.7 87.4 L211.0 87.2 L211.3 84.4 L211.6 90.7 L211.8 93.7 L212.1 91.5 L212.4 84.2 L212.7 90.1 L213.0 89.0 L213.2 87.0 L213.5 82.7 L213.8 86.2 L214.1 89.2 L214.4 86.8 L214.7 84.8 L214.9 88.5 L215.2 87.9 L215.5 85.1 L215.8 92.3 L216.1 92.9 L216.4 91.9 L216.7 84.0 L217.0 96.3 L217.3 95.1 L217.5 83.7 L217.8 89.7 L218.1 96.6 L218.4 96.3 L218.7 79.9 L219.0 88.5 L219.3 87.6 L219.6 89.6 L219.9 92.0 L220.2 98.1 L220.5 93.3 L220.8 93.6 L221.1 88.1 L221.4 96.0 L221.7 93.9 L222.0 91.8 L222.3 95.4 L222.6 91.3 L222.9 86.4 L223.2 88.0 L223.5 100.1 L223.8 95.0 L224.1 95.0 L224.4 106.6 L224.7 90.3 L225.0 93.1 L225.3 92.2 L225.7 90.1 L226.0 95.9 L226.3 94.0 L226.6 96.8 L226.9 83.1 L227.2 98.2 L227.5 99.1 L227.8 100.5 L228.2 94.2 L228.5 97.3 L228.8 91.9 L229.1 86.7 L229.4 105.7 L229.8 97.8 L230.1 97.2 L230.4 101.2 L230.7 91.1 L231.0 93.5 L231.4 105.2 L231.7 100.2 L232.0 108.1 L232.3 99.7 L232.7 106.8 L233.0 98.6 L233.3 99.9 L233.6 97.4 L234.0 101.8 L234.3 98.9 L234.6 94.5 L235.0 95.5 L235.3 103.2 L235.6 95.3 L236.0 98.7 L236.3 95.3 L236.6 102.3 L237.0 99.3 L237.3 107.1 L237.7 102.1 L238.0 105.1 L238.3 96.7 L238.7 104.8 L239.0 91.3 L239.4 106.4 L239.7 102.5 L240.1 107.1 L240.4 94.4 L240.7 102.1 L241.1 94.7 L241.4 101.5 L241.8 100.6 L242.1 98.7 L242.5 96.0 L242.8 106.8 L243.2 107.6 L243.6 103.4 L243.9 108.8 L244.3 105.3 L244.6 104.1 L245.0 103.1 L245.3 110.9 L245.7 102.9 L246.1 107.0 L246.4 105.7 L246.8 102.7 L247.2 108.7 L247.5 100.6 L247.9 108.3 L248.3 95.8 L248.6 101.6 L249.0 104.7 L249.4 108.3 L249.7 112.0 L250.1 104.2 L250.5 108.2 L250.9 105.4 L251.2 109.4 L251.6 113.6 L252.0 117.6 L252.4 112.8 L252.7 112.8 L253.1 103.8 L253.5 110.8 L253.9 106.5 L254.3 108.6 L254.7 115.1 L255.0 109.5 L255.4 108.0 L255.8 105.5 L256.2 109.9 L256.6 110.0 L257.0 117.4 L257.4 107.9 L257.8 115.0 L258.2 118.7 L258.6 109.7 L259.0 102.7 L259.4 110.1 L259.8 119.3 L260.2 111.7 L260.6 113.5 L261.0 118.5 L261.4 113.4 L261.8 102.7 L262.2 120.0 L262.6 108.2 L263.0 116.4 L263.4 116.3 L263.8 115.5 L264.3 107.1 L264.7 118.5 L265.1 112.9 L265.5 102.4 L265.9 111.2 L266.4 110.9 L266.8 116.7 L267.2 108.1 L267.6 107.2 L268.1 116.9 L268.5 122.1 L268.9 117.7 L269.3 113.2 L269.8 114.6 L270.2 115.7 L270.6 116.9 L271.1 121.1 L271.5 113.4 L272.0 123.2 L272.4 125.4 L272.8 118.6 L273.3 128.1 L273.7 119.8 L274.2 119.7 L274.6 127.7 L275.1 115.7 L275.5 127.9 L276.0 115.6 L276.4 120.7 L276.9 124.0 L277.3 119.1 L277.8 120.0 L278.3 115.6 L278.7 121.4 L279.2 125.3 L279.7 121.9 L280.1 126.7 L280.6 121.3 L281.1 125.0 L281.5 121.7 L282.0 129.9 L282.5 120.3 L283.0 123.7 L283.4 127.1 L283.9 116.5 L284.4 129.4 L284.9 126.1 L285.4 125.0 L285.9 125.9 L286.4 127.3 L286.8 123.0 L287.3 126.1 L287.8 120.0 L288.3 123.4 L288.8 127.4 L289.3 123.7 L289.8 130.0 L290.3 122.1 L290.8 122.7 L291.4 125.7 L291.9 123.0 L292.4 133.1 L292.9 132.3 L293.4 117.7 L293.9 129.7 L294.5 126.5 L295.0 127.5 L295.5 124.7 L296.0 130.1 L296.6 128.7 L297.1 131.8 L297.6 125.0 L298.2 123.2 L298.7 127.0 L299.2 123.1 L299.8 126.4 L300.3 134.9 L300.9 129.2 L301.4 130.7 L302.0 136.7 L302.5 137.9 L303.1 129.7 L303.6 129.4 L304.2 130.8 L304.8 127.8 L305.3 134.4 L305.9 131.6 L306.5 131.4 L307.0 131.8 L307.6 129.7 L308.2 134.7 L308.8 126.2 L309.4 129.9 L309.9 124.8 L310.5 127.1 L311.1 128.3 L311.7 132.5 L312.3 131.9 L312.9 139.8 L313.5 135.1 L314.1 133.5 L314.7 133.3 L315.3 130.8 L315.9 135.9 L316.6 139.2 L317.2 141.6 L317.8 143.1 L318.4 134.6 L319.0 132.4 L319.7 138.9 L320.3 137.4 L320.9 138.7 L321.6 142.2 L322.2 140.7 L322.9 139.6 L323.5 138.1 L324.2 133.1 L324.8 139.5 L325.5 136.6 L326.1 139.0 L326.8 137.0 L327.5 142.8 L328.2 134.6 L328.8 139.4 L329.5 139.6 L330.2 143.6 L330.9 143.8 L331.6 143.0 L332.3 136.8 L333.0 135.1 L333.7 142.5 L334.4 140.3 L335.1 144.4 L335.8 142.7 L336.5 140.7 L337.2 141.2 L337.9 143.6 L338.7 140.4 L339.4 144.1 L340.1 138.8 L340.9 140.4 L341.6 146.1 L342.4 142.6 L343.1 144.4 L343.9 141.0 L344.6 140.4 L345.4 144.2 L346.2 142.7 L346.9 146.8 L347.7 143.3 L348.5 145.0 L349.3 148.5 L350.1 142.5 L350.9 148.6 L351.7 146.8 L352.5 145.3 L353.3 148.5 L354.1 153.3 L354.9 147.4 L355.8 147.8 L356.6 148.9 L357.4 145.5 L358.3 145.9 L359.1 148.3 L360.0 151.5 L360.9 155.7 L361.7 149.5 L362.6 149.3 L363.5 153.0 L364.4 151.0 L365.2 155.7 L366.1 154.7 L367.0 153.4 L367.9 155.0 L368.9 154.1 L369.8 151.0 L370.7 152.6 L371.6 155.4 L372.6 158.4 L373.5 158.0 L374.5 163.2 L375.4 161.8 L376.4 160.9 L377.4 159.6 L378.4 158.9 L379.3 156.1 L380.3 152.7 L381.3 154.7 L382.4 163.4 L383.4 164.4 L384.4 158.4 L385.4 159.3 L386.5 166.7 L387.5 161.0 L388.6 166.5 L389.7 161.8 L390.7 156.9 L391.8 165.7 L392.9 159.7 L394.0 166.5 L395.1 164.5 L396.3 166.7 L397.4 163.7 L398.5 166.2 L399.7 167.4 L400.9 162.5 L402.0 168.6 L403.2 167.5 L404.4 173.4 L405.6 171.6 L406.8 171.0 L408.1 171.0 L409.3 170.8 L410.6 174.4 L411.8 169.1 L413.1 172.1 L414.4 172.1 L415.7 167.9 L417.0 174.4 L418.3 174.4 L419.7 170.7 L421.0 175.7 L422.4 171.9 L423.8 175.7 L425.2 174.7 L426.6 181.1 L428.0 176.7 L429.5 176.1 L430.9 179.7 L432.4 179.4 L433.9 180.5 L435.4 183.3 L436.9 182.3 L438.5 182.9 L440.0 185.3 L441.6 186.0 L443.2 176.5 L444.8 183.0 L446.5 183.9 L448.1 184.5 L449.8 188.9 L451.5 189.1 L453.2 187.8 L455.0 186.0 L456.8 189.0 L458.5 185.5 L460.4 190.3 L462.2 188.2 L464.1 190.5 L466.0 196.1 L467.9 196.7 L469.9 193.9 L471.9 196.1 L473.9 195.6 L475.9 193.3 L478.0 202.9 L480.1 199.5 L482.3 200.1 L484.4 199.5 L486.7 201.2 L488.9 202.3 L491.2 203.5 L493.6 203.5 L495.9 202.9 L498.4 205.2 L500.8 208.5 L503.3 212.5 L505.9 211.4 L508.5 210.8 L511.2 211.4 L513.9 211.9 L516.7 213.1 L519.5 214.8 L522.4 213.8 L525.4 212.9 L528.4 218.3 L531.5 219.1 L534.7 220.5 L538.0 222.9 L541.3 216.5 L544.7 221.4 L548.3 224.5 L551.9 224.1 L555.6 225.2 L559.4 227.2 L563.4 225.8 L567.4 225.2 L571.6 230.5 L576.0 235.6 L580.4 232.1 L585.1 234.5 L589.9 238.5 L594.8 235.9 L600.0 239.2 L605.4 239.9 L611.0 239.4 L616.9 246.8 L623.0 245.0 L629.5 243.5 L636.3 247.7 L643.4 248.9 L650.9 247.7 L658.9 249.2 L667.5 255.6 L676.6 252.4 L686.4 254.2 L696.9 255.6 L708.4 256.9 L721.0 256.5 L734.9 256.4 L750.5 260.0 L768.1 262.2 L788.4 260.5 L812.5 263.6 L842.0 262.7 L880.0 262.3 L933.5 263.4 L1025.0 263.4"/>
<path stroke="#7E2F8E" d="M113.0 35.4 L113.1 46.7 L113.3 46.3 L113.4 31.0 L113.5 31.8 L113.7 30.5 L113.8 49.9 L113.9 40.4 L114.1 39.7 L114.2 43.0 L114.3 34.9 L114.5 39.1 L114.6 33.8 L114.7 43.5 L114.9 35.2 L115.0 42.3 L115.1 46.1 L115.3 39.8 L115.4 44.9 L115.5 34.1 L115.7 34.2 L115.8 41.9 L115.9 39.6 L116.1 33.2 L116.2 38.3 L116.3 47.4 L116.5 37.2 L116.6 41.2 L116.7 39.0 L116.9 42.2 L117.0 43.1 L117.2 44.4 L117.3 44.1 L117.4 45.8 L117.6 43.7 L117.7 42.5 L117.8 38.8 L118.0 25.1 L118.1 39.6 L118.3 37.5 L118.4 38.1 L118.5 32.6 L118.7 46.0 L118.8 32.1 L118.9 44.4 L119.1 41.0 L119.2 44.6 L119.4 47.1 L119.5 53.2 L119.6 49.9 L119.8 48.3 L119.9 50.5 L120.1 43.1 L120.2 43.4 L120.3 40.5 L120.5 44.7 L120.6 49.1 L120.7 43.2 L120.9 43.4 L121.0 40.0 L121.2 52.0 L121.3 43.7 L121.5 46.7 L121.6 42.7 L121.7 46.3 L121.9 34.3 L122.0 44.7 L122.2 40.8 L122.3 51.2 L122.4 48.4 L122.6 42.9 L122.7 40.6 L122.9 39.5 L123.0 47.6 L123.2 41.1 L123.3 53.8 L123.4 39.3 L123.6 41.5 L123.7 39.7 L123.9 37.4 L124.0 47.3 L124.2 41.0 L124.3 51.6 L124.4 45.7 L124.6 35.6 L124.7 41.1 L124.9 45.5 L125.0 52.4 L125.2 43.1 L125.3 44.3 L125.5 37.9 L125.6 52.7 L125.7 34.4 L125.9 47.6 L126.0 46.2 L126.2 48.1 L126.3 49.8 L126.5 52.2 L126.6 46.9 L126.8 37.7 L126.9 55.2 L127.1 43.7 L127.2 51.8 L127.4 45.6 L127.5 51.2 L127.6 47.1 L127.8 45.2 L127.9 52.1 L128.1 34.4 L128.2 45.8 L128.4 47.8 L128.5 49.7 L128.7 44.8 L128.8 37.8 L129.0 49.7 L129.1 41.9 L129.3 51.5 L129.4 50.2 L129.6 48.2 L129.7 56.5 L129.9 54.7 L130.0 43.2 L130.2 39.3 L130.3 56.1 L130.5 60.9 L130.6 45.2 L130.8 50.6 L130.9 44.2 L131.1 45.8 L131.2 64.8 L131.4 51.7 L131.5 49.9 L131.7 50.3 L131.8 43.1 L132.0 51.7 L132.1 59.5 L132.3 57.6 L132.5 47.3 L132.6 45.4 L132.8 53.6 L132.9 50.4 L133.1 49.6 L133.2 46.4 L133.4 54.6 L133.5 50.7 L133.7 50.3 L133.8 50.7 L134.0 52.7 L134.1 45.5 L134.3 45.2 L134.5 37.5 L134.6 52.6 L134.8 60.9 L134.9 56.4 L135.1 51.0 L135.2 45.2 L135.4 49.3 L135.5 47.9 L135.7 53.1 L135.9 50.0 L136.0 53.7 L136.2 49.3 L136.3 44.5 L136.5 60.5 L136.6 44.7 L136.8 45.3 L137.0 47.9 L137.1 48.9 L137.3 56.0 L137.4 54.0 L137.6 49.7 L137.8 54.8 L137.9 63.8 L138.1 54.3 L138.2 53.6 L138.4 56.2 L138.6 47.9 L138.7 67.2 L138.9 60.6 L139.0 49.9 L139.2 55.8 L139.4 42.0 L139.5 54.7 L139.7 53.1 L139.8 55.1 L140.0 49.8 L140.2 58.9 L140.3 48.4 L140.5 59.6 L140.7 51.3 L140.8 43.9 L141.0 51.0 L141.1 63.0 L141.3 45.2 L141.5 48.2 L141.6 55.6 L141.8 48.8 L142.0 51.7 L142.1 49.9 L142.3 57.5 L142.5 52.9 L142.6 60.5 L142.8 45.9 L143.0 61.9 L143.1 58.5 L143.3 55.5 L143.5 56.6 L143.6 52.1 L143.8 49.7 L144.0 63.7 L144.1 54.2 L144.3 48.8 L144.5 57.2 L144.6 56.2 L144.8 59.3 L145.0 52.7 L145.1 50.5 L145.3 49.6 L145.5 49.8 L145.6 59.0 L145.8 58.0 L146.0 60.0 L146.1 58.1 L146.3 53.1 L146.5 68.1 L146.7 55.2 L146.8 47.1 L147.0 60.7 L147.2 54.5 L147.3 55.1 L147.5 55.5 L147.7 58.6 L147.9 50.8 L148.0 54.8 L148.2 57.3 L148.4 64.1 L148.5 53.0 L148.7 54.5 L148.9 63.8 L149.1 61.0 L149.2 58.8 L149.4 54.3 L149.6 63.7 L149.8 58.2 L149.9 58.9 L150.1 59.0 L150.3 59.2 L150.5 63.2 L150.6 57.4 L150.8 47.0 L151.0 57.4 L151.2 59.1 L151.3 60.1 L151.5 55.9 L151.7 52.7 L151.9 62.6 L152.0 63.9 L152.2 51.4 L152.4 58.6 L152.6 56.3 L152.8 62.0 L152.9 58.6 L153.1 52.9 L153.3 66.9 L153.5 63.2 L153.6 58.9 L153.8 55.9 L154.0 55.2 L154.2 60.2 L154.4 51.7 L154.5 70.7 L154.7 58.2 L154.9 61.7 L155.1 59.9 L155.3 63.2 L155.5 66.9 L155.6 48.5 L155.8 66.0 L156.0 61.8 L156.2 68.1 L156.4 64.7 L156.6 54.6 L156.7 56.3 L156.9 69.0 L157.1 67.1 L157.3 61.5 L157.5 66.4 L157.7 59.9 L157.8 68.3 L158.0 61.7 L158.2 59.2 L158.4 64.2 L158.6 62.1 L158.8 66.1 L159.0 61.3 L159.2 63.1 L159.3 76.7 L159.5 68.7 L159.7 62.3 L159.9 64.8 L160.1 58.1 L160.3 71.8 L160.5 63.2 L160.7 69.7 L160.8 69.4 L161.0 68.8 L161.2 68.8 L161.4 69.6 L161.6 75.0 L161.8 66.8 L162.0 67.3 L162.2 54.5 L162.4 61.7 L162.6 58.6 L162.8 66.6 L163.0 68.8 L163.1 68.0 L163.3 58.1 L163.5 71.7 L163.7 68.5 L163.9 65.4 L164.1 59.5 L164.3 66.2 L164.5 68.1 L164.7 71.5 L164.9 61.6 L165.1 63.9 L165.3 61.8 L165.5 67.8 L165.7 65.3 L165.9 65.8 L166.1 62.9 L166.3 71.0 L166.5 71.5 L166.7 70.5 L166.9 58.0 L167.1 68.5 L167.3 70.2 L167.5 67.0 L167.7 69.2 L167.9 73.0 L168.1 70.6 L168.3 72.8 L168.5 76.4 L168.7 73.1 L168.9 69.6 L169.1 69.7 L169.3 69.2 L169.5 72.0 L169.7 69.0 L169.9 71.1 L170.1 66.8 L170.3 66.7 L170.5 71.2 L170.7 66.6 L170.9 64.5 L171.1 67.6 L171.3 70.4 L171.5 65.7 L171.7 77.2 L171.9 68.3 L172.1 63.5 L172.3 83.0 L172.5 67.0 L172.7 78.7 L173.0 72.5 L173.2 71.4 L173.4 65.4 L173.6 70.0 L173.8 65.1 L174.0 73.3 L174.2 68.7 L174.4 69.6 L174.6 81.4 L174.8 64.3 L175.1 63.1 L175.3 67.3 L175.5 73.0 L175.7 79.0 L175.9 67.7 L176.1 75.0 L176.3 66.5 L176.5 70.2 L176.8 60.5 L177.0 62.9 L177.2 75.4 L177.4 76.4 L177.6 75.9 L177.8 73.2 L178.0 56.3 L178.3 67.1 L178.5 63.2 L178.7 71.2 L178.9 70.0 L179.1 76.4 L179.3 79.9 L179.6 77.5 L179.8 73.6 L180.0 80.6 L180.2 70.0 L180.4 77.3 L180.7 68.6 L180.9 73.8 L181.1 77.7 L181.3 74.4 L181.5 68.4 L181.8 73.4 L182.0 77.8 L182.2 77.6 L182.4 86.9 L182.7 76.6 L182.9 75.3 L183.1 64.3 L183.3 71.0 L183.6 66.8 L183.8 82.2 L184.0 72.3 L184.2 66.6 L184.5 74.1 L184.7 73.8 L184.9 77.3 L185.1 76.2 L185.4 77.1 L185.6 73.7 L185.8 75.8 L186.1 64.7 L186.3 65.6 L186.5 72.8 L186.8 72.8 L187.0 66.6 L187.2 80.9 L187.4 75.2 L187.7 72.4 L187.9 76.6 L188.1 79.2 L188.4 65.8 L188.6 79.5 L188.8 76.4 L189.1 79.0 L189.3 79.2 L189.6 69.6 L189.8 82.3 L190.0 80.9 L190.3 83.6 L190.5 70.6 L190.7 79.1 L191.0 71.7 L191.2 70.2 L191.5 83.4 L191.7 72.8 L191.9 79.1 L192.2 75.7 L192.4 81.9 L192.7 74.4 L192.9 79.2 L193.1 81.5 L193.4 61.3 L193.6 76.2 L193.9 70.3 L194.1 86.0 L194.4 81.7 L194.6 78.0 L194.8 82.3 L195.1 79.7 L195.3 74.2 L195.6 86.3 L195.8 87.9 L196.1 83.6 L196.3 83.8 L196.6 78.3 L196.8 75.9 L197.1 83.3 L197.3 74.8 L197.6 78.2 L197.8 76.8 L198.1 73.2 L198.3 81.9 L198.6 78.4 L198.8 78.1 L199.1 88.2 L199.3 75.9 L199.6 73.3 L199.8 75.1 L200.1 81.5 L200.4 86.6 L200.6 80.2 L200.9 73.6 L201.1 69.8 L201.4 77.5 L201.6 87.7 L201.9 81.8 L202.2 75.0 L202.4 81.5 L202.7 76.3 L202.9 78.8 L203.2 84.8 L203.5 85.4 L203.7 82.7 L204.0 76.2 L204.2 83.8 L204.5 80.3 L204.8 76.8 L205.0 75.3 L205.3 79.2 L205.6 81.7 L205.8 80.8 L206.1 64.3 L206.4 79.2 L206.6 91.9 L206.9 74.4 L207.2 87.5 L207.5 86.1 L207.7 82.9 L208.0 90.8 L208.3 77.5 L208.5 82.0 L208.8 81.8 L209.1 86.4 L209.4 87.5 L209.6 99.6 L209.9 81.7 L210.2 87.8 L210.5 92.2 L210.7 83.6 L211.0 83.9 L211.3 92.1 L211.6 77.3 L211.8 89.0 L212.1 79.6 L212.4 83.4 L212.7 83.0 L213.0 92.9 L213.2 78.5 L213.5 72.5 L213.8 81.9 L214.1 78.4 L214.4 85.9 L214.7 89.3 L214.9 88.0 L215.2 77.8 L215.5 76.8 L215.8 88.5 L216.1 79.2 L216.4 77.1 L216.7 94.8 L217.0 84.1 L217.3 87.6 L217.5 88.2 L217.8 87.2 L218.1 87.1 L218.4 88.7 L218.7 83.1 L219.0 87.8 L219.3 83.4 L219.6 91.7 L219.9 87.6 L220.2 87.4 L220.5 89.8 L220.8 94.2 L221.1 93.4 L221.4 91.2 L221.7 86.6 L222.0 96.4 L222.3 83.9 L222.6 84.8 L222.9 98.3 L223.2 83.8 L223.5 92.1 L223.8 91.0 L224.1 88.6 L224.4 86.8 L224.7 87.3 L225.0 84.4 L225.3 82.7 L225.7 79.5 L226.0 89.9 L226.3 97.3 L226.6 81.3 L226.9 93.0 L227.2 92.1 L227.5 97.0 L227.8 96.1 L228.2 95.1 L228.5 86.9 L228.8 92.3 L229.1 90.2 L229.4 85.5 L229.8 94.9 L230.1 87.6 L230.4 98.1 L230.7 95.4 L231.0 85.1 L231.4 100.0 L231.7 94.1 L232.0 93.7 L232.3 78.8 L232.7 89.6 L233.0 89.0 L233.3 89.2 L233.6 87.4 L234.0 86.6 L234.3 101.6 L234.6 90.8 L235.0 81.8 L235.3 89.9 L235.6 90.3 L236.0 93.0 L236.3 94.3 L236.6 96.1 L237.0 92.0 L237.3 96.0 L237.7 113.0 L238.0 91.3 L238.3 86.7 L238.7 102.0 L239.0 94.3 L239.4 92.0 L239.7 89.6 L240.1 103.8 L240.4 91.3 L240.7 108.3 L241.1 106.9 L241.4 103.5 L241.8 95.6 L242.1 114.6 L242.5 91.1 L242.8 98.4 L243.2 92.3 L243.6 100.4 L243.9 100.6 L244.3 103.7 L244.6 98.2 L245.0 103.3 L245.3 97.9 L245.7 101.5 L246.1 95.6 L246.4 104.7 L246.8 104.1 L247.2 97.7 L247.5 101.0 L247.9 95.8 L248.3 110.4 L248.6 113.9 L249.0 103.6 L249.4 110.9 L249.7 105.3 L250.1 102.6 L250.5 96.8 L250.9 105.6 L251.2 96.5 L251.6 102.4 L252.0 106.0 L252.4 99.2 L252.7 97.0 L253.1 99.4 L253.5 106.0 L253.9 102.6 L254.3 107.9 L254.7 113.6 L255.0 99.7 L255.4 109.6 L255.8 105.8 L256.2 101.8 L256.6 101.4 L257.0 98.6 L257.4 104.6 L257.8 96.0 L258.2 92.9 L258.6 100.0 L259.0 105.3 L259.4 102.8 L259.8 101.2 L260.2 103.4 L260.6 110.2 L261.0 100.2 L261.4 106.6 L261.8 106.4 L262.2 99.7 L262.6 111.0 L263.0 103.6 L263.4 118.4 L263.8 103.7 L264.3 106.6 L264.7 119.0 L265.1 113.0 L265.5 107.0 L265.9 95.4 L266.4 114.8 L266.8 101.3 L267.2 111.1 L267.6 108.5 L268.1 109.6 L268.5 107.8 L268.9 106.4 L269.3 106.8 L269.8 108.8 L270.2 104.4 L270.6 107.0 L271.1 114.7 L271.5 101.9 L272.0 115.8 L272.4 114.0 L272.8 125.5 L273.3 114.7 L273.7 111.5 L274.2 113.8 L274.6 101.2 L275.1 114.7 L275.5 107.3 L276.0 119.8 L276.4 110.4 L276.9 113.1 L277.3 106.8 L277.8 110.1 L278.3 110.8 L278.7 115.6 L279.2 118.1 L279.7 110.4 L280.1 104.6 L280.6 105.1 L281.1 118.3 L281.5 116.9 L282.0 114.9 L282.5 113.9 L283.0 114.6 L283.4 113.4 L283.9 120.0 L284.4 114.7 L284.9 110.1 L285.4 111.9 L285.9 106.1 L286.4 119.3 L286.8 112.0 L287.3 114.3 L287.8 110.4 L288.3 113.1 L288.8 119.9 L289.3 117.0 L289.8 118.0 L290.3 123.0 L290.8 119.3 L291.4 114.1 L291.9 121.0 L292.4 112.2 L292.9 122.6 L293.4 119.2 L293.9 121.0 L294.5 119.8 L295.0 117.8 L295.5 112.0 L296.0 127.2 L296.6 116.2 L297.1 115.3 L297.6 121.1 L298.2 120.9 L298.7 117.8 L299.2 117.3 L299.8 123.6 L300.3 128.4 L300.9 120.6 L301.4 120.7 L302.0 125.8 L302.5 118.8 L303.1 115.0 L303.6 115.6 L304.2 119.9 L304.8 120.8 L305.3 112.9 L305.9 123.5 L306.5 123.9 L307.0 118.2 L307.6 123.8 L308.2 137.1 L308.8 121.7 L309.4 116.8 L309.9 119.6 L310.5 120.1 L311.1 120.6 L311.7 121.6 L312.3 124.0 L312.9 119.8 L313.5 126.8 L314.1 125.0 L314.7 126.7 L315.3 116.8 L315.9 131.7 L316.6 136.0 L317.2 126.7 L317.8 125.7 L318.4 125.9 L319.0 134.0 L319.7 118.2 L320.3 134.0 L320.9 122.1 L321.6 135.7 L322.2 130.3 L322.9 128.3 L323.5 123.3 L324.2 118.1 L324.8 119.4 L325.5 125.5 L326.1 134.5 L326.8 125.6 L327.5 119.7 L328.2 128.1 L328.8 126.4 L329.5 129.8 L330.2 126.3 L330.9 124.2 L331.6 127.4 L332.3 126.8 L333.0 136.7 L333.7 132.2 L334.4 134.1 L335.1 128.3 L335.8 130.6 L336.5 126.9 L337.2 133.9 L337.9 127.7 L338.7 131.3 L339.4 128.6 L340.1 133.9 L340.9 137.0 L341.6 131.3 L342.4 136.5 L343.1 134.1 L343.9 135.2 L344.6 136.4 L345.4 133.4 L346.2 132.9 L346.9 126.1 L347.7 129.6 L348.5 134.1 L349.3 143.3 L350.1 136.3 L350.9 130.9 L351.7 136.7 L352.5 141.2 L353.3 131.7 L354.1 138.1 L354.9 138.0 L355.8 132.1 L356.6 133.5 L357.4 130.0 L358.3 138.7 L359.1 141.1 L360.0 134.9 L360.9 140.1 L361.7 137.3 L362.6 137.3 L363.5 135.7 L364.4 136.6 L365.2 136.5 L366.1 139.9 L367.0 140.6 L367.9 139.4 L368.9 143.4 L369.8 135.7 L370.7 139.8 L371.6 137.1 L372.6 142.3 L373.5 143.9 L374.5 134.4 L375.4 143.9 L376.4 146.0 L377.4 142.7 L378.4 133.7 L379.3 151.1 L380.3 140.1 L381.3 142.7 L382.4 150.6 L383.4 141.9 L384.4 143.3 L385.4 150.0 L386.5 146.6 L387.5 147.7 L388.6 145.3 L389.7 145.9 L390.7 148.9 L391.8 140.7 L392.9 142.5 L394.0 145.6 L395.1 144.4 L396.3 153.0 L397.4 147.4 L398.5 148.3 L399.7 144.4 L400.9 151.9 L402.0 148.3 L403.2 147.5 L404.4 148.1 L405.6 147.6 L406.8 146.5 L408.1 150.6 L409.3 153.8 L410.6 156.6 L411.8 144.7 L413.1 150.8 L414.4 161.2 L415.7 153.6 L417.0 149.2 L418.3 153.5 L419.7 151.0 L421.0 156.6 L422.4 156.2 L423.8 153.3 L425.2 157.2 L426.6 156.7 L428.0 158.1 L429.5 156.9 L430.9 155.3 L432.4 153.0 L433.9 162.9 L435.4 156.5 L436.9 154.3 L438.5 154.4 L440.0 164.2 L441.6 160.0 L443.2 152.1 L444.8 160.4 L446.5 156.6 L448.1 157.5 L449.8 155.7 L451.5 160.4 L453.2 165.2 L455.0 153.8 L456.8 156.9 L458.5 157.0 L460.4 157.7 L462.2 161.0 L464.1 159.5 L466.0 162.0 L467.9 160.5 L469.9 163.0 L471.9 161.0 L473.9 162.5 L475.9 160.0 L478.0 164.5 L480.1 166.2 L482.3 161.7 L484.4 165.6 L486.7 166.4 L488.9 167.1 L491.2 160.4 L493.6 160.4 L495.9 165.0 L498.4 170.0 L500.8 162.1 L503.3 169.6 L505.9 169.6 L508.5 168.6 L511.2 166.9 L513.9 166.7 L516.7 160.3 L519.5 162.1 L522.4 162.9 L525.4 162.6 L528.4 166.1 L531.5 164.3 L534.7 161.1 L538.0 165.0 L541.3 166.1 L544.7 169.0 L548.3 165.0 L551.9 165.3 L555.6 167.9 L559.4 166.7 L563.4 168.1 L567.4 165.7 L571.6 167.1 L576.0 166.9 L580.4 167.6 L585.1 166.4 L589.9 168.3 L594.8 163.9 L600.0 169.6 L605.4 165.4 L611.0 166.4 L616.9 167.9 L623.0 168.0 L629.5 168.1 L636.3 167.7 L643.4 167.9 L650.9 169.3 L658.9 168.8 L667.5 168.3 L676.6 168.1 L686.4 168.1 L696.9 168.6 L708.4 168.8 L721.0 169.7 L734.9 168.6 L750.5 167.8 L768.1 168.7 L788.4 168.9 L812.5 168.9 L842.0 168.9 L880.0 168.9 L933.5 168.9 L1025.0 168.9"/>
</g>
<text class="tk" x="50.1" y="29.5" font-size="30.0">10<tspan x="87.4" y="16.5" font-size="24.0">0</tspan></text>
<text class="tk" x="42.5" y="157.6" font-size="30.0">10<tspan x="79.3" y="144.6" font-size="24.0">-1</tspan></text>
<text class="tk" x="42.5" y="287.6" font-size="30.0">10<tspan x="79.3" y="274.6" font-size="24.0">-2</tspan></text>
<text class="tk" x="42.5" y="415.9" font-size="30.0">10<tspan x="79.3" y="402.9" font-size="24.0">-3</tspan></text>
<text class="tk" x="42.5" y="544.7" font-size="30.0">10<tspan x="79.3" y="531.7" font-size="24.0">-4</tspan></text>
<text class="tk" x="86.1" y="575.6" font-size="30.0">10<tspan x="123.7" y="563.1" font-size="24.0">0</tspan></text>
<text class="tk" x="386.7" y="575.6" font-size="30.0">10<tspan x="424.0" y="563.1" font-size="24.0">-1</tspan></text>
<text class="tk" x="690.7" y="575.6" font-size="30.0">10<tspan x="728.0" y="563.1" font-size="24.0">-2</tspan></text>
<text class="tk" x="994.7" y="575.6" font-size="30.0">10<tspan x="1032.0" y="563.1" font-size="24.0">-3</tspan></text>
<text class="tx" x="508.6" y="611.7" font-size="32.5"><tspan textLength="46.6" lengthAdjust="spacingAndGlyphs">log </tspan><tspan x="552.7">10</tspan><tspan x="586.9">(</tspan><tspan class="it" x="598.2" textLength="19" lengthAdjust="spacingAndGlyphs">α</tspan><tspan x="617.5">)</tspan></text>
<g transform="translate(23.2 475.6) rotate(-90)">
<text class="tx" x="0" y="0" font-size="32.5"><tspan x="0" textLength="82.7" lengthAdjust="spacingAndGlyphs">log 10 </tspan><tspan x="82.8" y="0">(</tspan><tspan x="93.2" y="0" font-family="DejaVu Serif,serif">‖</tspan><tspan class="it" x="110.5" y="0">f</tspan><tspan class="it" x="125.0" y="5.6" font-size="22.5" textLength="28.3" lengthAdjust="spacingAndGlyphs">rec</tspan><tspan x="154.6" y="0"> − </tspan><tspan class="it" x="193.9" y="0">f</tspan><tspan class="it" x="209.6" y="5.6" font-size="22.5" textLength="36.2" lengthAdjust="spacingAndGlyphs">true</tspan><tspan x="249.8" y="0" font-family="DejaVu Serif,serif">‖</tspan><tspan x="266.0" y="5.6" font-size="22.5" textLength="8.3" lengthAdjust="spacingAndGlyphs">2</tspan><tspan x="279.6" y="0">/</tspan><tspan x="292.2" y="0" font-family="DejaVu Serif,serif">‖</tspan><tspan class="it" x="310.3" y="0">f</tspan><tspan class="it" x="325.3" y="5.6" font-size="22.5" textLength="36.6" lengthAdjust="spacingAndGlyphs">true</tspan><tspan x="365.9" y="0" font-family="DejaVu Serif,serif">‖</tspan><tspan x="381.5" y="5.6" font-size="22.5" textLength="8.7" lengthAdjust="spacingAndGlyphs">2</tspan><tspan x="394.1" y="0">)</tspan></text>
</g>
<rect x="136" y="375.3" width="266.8" height="133.2" fill="#fff" stroke="#262626" stroke-width="1.6"/>
<line x1="144.4" x2="228.8" y1="395.0" y2="395.0" stroke="#0072BD" stroke-width="1.65"/>
<text class="tx" x="235.3" y="401.1" font-size="25.2"><tspan textLength="133.4" lengthAdjust="spacingAndGlyphs">Relative err </tspan><tspan class="it" x="374.5">f</tspan><tspan x="384.1" y="405.5" font-size="17">0</tspan></text>
<line x1="144.4" x2="228.8" y1="425.8" y2="425.8" stroke="#D95319" stroke-width="1.65"/>
<text class="tx" x="235.3" y="431.9" font-size="25.2"><tspan textLength="133.4" lengthAdjust="spacingAndGlyphs">Relative err </tspan><tspan class="it" x="374.5">f</tspan><tspan x="384.1" y="436.3" font-size="17">1</tspan></text>
<line x1="144.4" x2="228.8" y1="456.7" y2="456.7" stroke="#EDB120" stroke-width="1.65"/>
<text class="tx" x="235.3" y="462.8" font-size="25.2"><tspan textLength="133.4" lengthAdjust="spacingAndGlyphs">Relative err </tspan><tspan class="it" x="374.5">f</tspan><tspan x="384.1" y="467.2" font-size="17">2</tspan></text>
<line x1="144.4" x2="228.8" y1="487.6" y2="487.6" stroke="#7E2F8E" stroke-width="1.65"/>
<text class="tx" x="235.3" y="493.7" font-size="25.2"><tspan textLength="133.4" lengthAdjust="spacingAndGlyphs">Relative err </tspan><tspan class="it" x="374.5">f</tspan><tspan x="384.1" y="498.1" font-size="17">3</tspan></text>
</svg></body></html>
